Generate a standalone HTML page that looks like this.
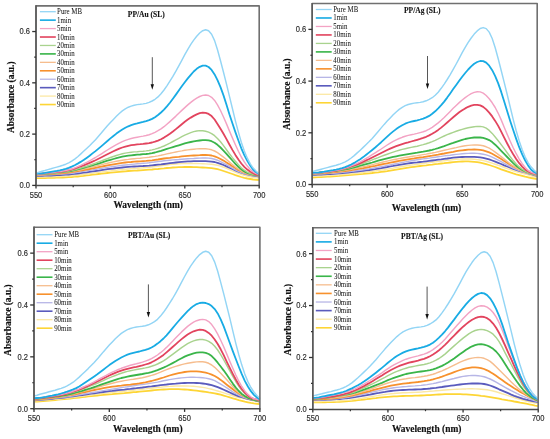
<!DOCTYPE html>
<html><head><meta charset="utf-8"><style>
html,body{margin:0;padding:0;background:#fff;width:550px;height:439px;overflow:hidden}
svg{display:block;filter:blur(0.35px)}
.tk{font-family:"Liberation Sans",sans-serif;font-size:9.0px;fill:#2a2a2a;stroke:#2a2a2a;stroke-width:0.15px}
.ax{font-family:"Liberation Serif",serif;font-weight:bold;font-size:9.45px;fill:#111;stroke:#111;stroke-width:0.15px}
.ti{font-family:"Liberation Serif",serif;font-weight:bold;font-size:7.5px;fill:#111;stroke:#111;stroke-width:0.12px}
.lg{font-family:"Liberation Serif",serif;font-size:7.3px;fill:#222;stroke:#222;stroke-width:0.05px}
</style></head><body>
<svg width="550" height="439" viewBox="0 0 550 439">
<rect width="550" height="439" fill="#fff"/>
<polyline points="36.0,178.0 39.0,178.0 42.0,178.0 44.9,178.0 47.9,177.9 50.9,177.9 53.9,177.8 56.8,177.7 59.8,177.6 62.8,177.5 65.8,177.4 68.7,177.2 71.7,177.0 74.7,176.7 77.7,176.5 80.6,176.1 83.6,175.8 86.6,175.4 89.6,175.1 92.5,174.7 95.5,174.4 98.5,174.0 101.5,173.7 104.4,173.3 107.4,173.0 110.4,172.7 113.4,172.4 116.4,172.1 119.3,171.8 122.3,171.5 125.3,171.3 128.3,171.0 131.2,170.8 134.2,170.6 137.2,170.5 140.2,170.3 143.1,170.1 146.1,169.9 149.1,169.7 152.1,169.5 155.0,169.2 158.0,169.0 161.0,168.7 164.0,168.4 166.9,168.0 169.9,167.8 172.9,167.5 175.9,167.3 178.8,167.2 181.8,167.1 184.8,167.0 187.8,167.0 190.8,167.0 193.7,167.1 196.7,167.2 199.7,167.4 202.7,167.5 205.6,167.7 208.6,167.9 211.6,168.1 214.6,168.6 217.5,169.2 220.5,170.0 223.5,171.0 226.5,172.0 229.4,173.0 232.4,174.0 235.4,175.1 238.4,176.1 241.3,177.0 244.3,177.8 247.3,178.5 250.3,179.0 253.2,179.5 256.2,179.8 259.2,180.0" fill="none" stroke="#fdd535" stroke-width="1.8" stroke-linejoin="round"/>
<polyline points="36.0,176.9 39.0,177.0 42.0,177.0 44.9,177.0 47.9,176.9 50.9,176.8 53.9,176.7 56.8,176.6 59.8,176.5 62.8,176.3 65.8,176.1 68.7,175.9 71.7,175.7 74.7,175.5 77.7,175.1 80.6,174.8 83.6,174.4 86.6,174.0 89.6,173.6 92.5,173.2 95.5,172.8 98.5,172.4 101.5,172.0 104.4,171.6 107.4,171.2 110.4,170.9 113.4,170.5 116.4,170.2 119.3,169.9 122.3,169.6 125.3,169.3 128.3,169.0 131.2,168.7 134.2,168.5 137.2,168.3 140.2,168.0 143.1,167.8 146.1,167.5 149.1,167.3 152.1,167.0 155.0,166.6 158.0,166.2 161.0,165.8 164.0,165.4 166.9,165.0 169.9,164.6 172.9,164.3 175.9,164.0 178.8,163.8 181.8,163.6 184.8,163.5 187.8,163.4 190.8,163.4 193.7,163.4 196.7,163.4 199.7,163.6 202.7,163.7 205.6,163.9 208.6,164.1 211.6,164.3 214.6,164.7 217.5,165.3 220.5,166.1 223.5,167.2 226.5,168.4 229.4,169.7 232.4,170.9 235.4,172.1 238.4,173.3 241.3,174.3 244.3,175.2 247.3,176.0 250.3,176.7 253.2,177.3 256.2,177.8 259.2,178.2" fill="none" stroke="#fbe8a4" stroke-width="1.45" stroke-linejoin="round"/>
<polyline points="36.0,175.9 39.0,175.9 42.0,175.8 44.9,175.7 47.9,175.6 50.9,175.5 53.9,175.4 56.8,175.2 59.8,175.1 62.8,174.9 65.8,174.7 68.7,174.5 71.7,174.2 74.7,173.9 77.7,173.5 80.6,173.1 83.6,172.7 86.6,172.3 89.6,171.8 92.5,171.4 95.5,171.0 98.5,170.6 101.5,170.1 104.4,169.7 107.4,169.2 110.4,168.8 113.4,168.5 116.4,168.1 119.3,167.8 122.3,167.5 125.3,167.2 128.3,166.9 131.2,166.7 134.2,166.5 137.2,166.3 140.2,166.1 143.1,166.0 146.1,165.8 149.1,165.6 152.1,165.3 155.0,165.0 158.0,164.7 161.0,164.4 164.0,164.0 166.9,163.6 169.9,163.2 172.9,162.8 175.9,162.5 178.8,162.2 181.8,161.9 184.8,161.6 187.8,161.4 190.8,161.3 193.7,161.2 196.7,161.2 199.7,161.1 202.7,161.1 205.6,161.2 208.6,161.3 211.6,161.6 214.6,162.0 217.5,162.8 220.5,163.8 223.5,165.0 226.5,166.4 229.4,167.7 232.4,169.0 235.4,170.3 238.4,171.6 241.3,172.7 244.3,173.6 247.3,174.4 250.3,175.1 253.2,175.7 256.2,176.2 259.2,176.6" fill="none" stroke="#5a5bbd" stroke-width="1.8" stroke-linejoin="round"/>
<polyline points="36.0,175.4 39.0,175.3 42.0,175.2 44.9,175.1 47.9,174.9 50.9,174.8 53.9,174.6 56.8,174.4 59.8,174.3 62.8,174.0 65.8,173.8 68.7,173.5 71.7,173.2 74.7,172.8 77.7,172.3 80.6,171.9 83.6,171.4 86.6,170.9 89.6,170.4 92.5,170.0 95.5,169.5 98.5,168.9 101.5,168.4 104.4,167.9 107.4,167.4 110.4,166.9 113.4,166.5 116.4,166.1 119.3,165.7 122.3,165.3 125.3,165.0 128.3,164.7 131.2,164.4 134.2,164.1 137.2,163.8 140.2,163.6 143.1,163.3 146.1,163.1 149.1,162.8 152.1,162.4 155.0,162.0 158.0,161.6 161.0,161.2 164.0,160.8 166.9,160.5 169.9,160.2 172.9,159.9 175.9,159.7 178.8,159.5 181.8,159.2 184.8,159.0 187.8,158.8 190.8,158.6 193.7,158.5 196.7,158.3 199.7,158.1 202.7,158.0 205.6,158.0 208.6,158.1 211.6,158.5 214.6,159.2 217.5,160.2 220.5,161.6 223.5,163.1 226.5,164.7 229.4,166.4 232.4,168.2 235.4,169.9 238.4,171.3 241.3,172.5 244.3,173.6 247.3,174.3 250.3,175.0 253.2,175.4 256.2,175.8 259.2,176.1" fill="none" stroke="#b7b6e6" stroke-width="1.45" stroke-linejoin="round"/>
<polyline points="36.0,174.9 39.0,174.7 42.0,174.6 44.9,174.4 47.9,174.3 50.9,174.1 53.9,173.9 56.8,173.7 59.8,173.5 62.8,173.2 65.8,172.9 68.7,172.6 71.7,172.2 74.7,171.7 77.7,171.2 80.6,170.7 83.6,170.1 86.6,169.5 89.6,169.0 92.5,168.4 95.5,167.8 98.5,167.2 101.5,166.6 104.4,166.0 107.4,165.4 110.4,164.8 113.4,164.3 116.4,163.8 119.3,163.3 122.3,162.9 125.3,162.5 128.3,162.2 131.2,162.0 134.2,161.7 137.2,161.5 140.2,161.3 143.1,161.1 146.1,160.9 149.1,160.6 152.1,160.3 155.0,159.9 158.0,159.5 161.0,159.0 164.0,158.5 166.9,158.1 169.9,157.8 172.9,157.4 175.9,157.1 178.8,156.8 181.8,156.4 184.8,156.1 187.8,155.9 190.8,155.7 193.7,155.5 196.7,155.3 199.7,155.2 202.7,155.0 205.6,155.0 208.6,155.1 211.6,155.5 214.6,156.3 217.5,157.5 220.5,159.0 223.5,160.6 226.5,162.4 229.4,164.3 232.4,166.2 235.4,168.1 238.4,169.9 241.3,171.3 244.3,172.6 247.3,173.6 250.3,174.4 253.2,174.9 256.2,175.3 259.2,175.7" fill="none" stroke="#f7912d" stroke-width="1.8" stroke-linejoin="round"/>
<polyline points="36.0,174.6 39.0,174.5 42.0,174.3 44.9,174.1 47.9,173.9 50.9,173.7 53.9,173.4 56.8,173.2 59.8,172.9 62.8,172.6 65.8,172.3 68.7,171.9 71.7,171.5 74.7,170.9 77.7,170.3 80.6,169.7 83.6,169.0 86.6,168.3 89.6,167.6 92.5,166.9 95.5,166.2 98.5,165.4 101.5,164.7 104.4,163.9 107.4,163.2 110.4,162.5 113.4,161.9 116.4,161.3 119.3,160.7 122.3,160.2 125.3,159.7 128.3,159.4 131.2,159.0 134.2,158.7 137.2,158.4 140.2,158.2 143.1,157.9 146.1,157.6 149.1,157.3 152.1,156.8 155.0,156.4 158.0,155.9 161.0,155.3 164.0,154.6 166.9,153.9 169.9,153.3 172.9,152.6 175.9,152.0 178.8,151.4 181.8,150.9 184.8,150.3 187.8,149.9 190.8,149.5 193.7,149.2 196.7,148.9 199.7,148.8 202.7,148.7 205.6,148.7 208.6,149.1 211.6,149.8 214.6,151.0 217.5,152.7 220.5,154.8 223.5,157.1 226.5,159.5 229.4,162.0 232.4,164.5 235.4,167.0 238.4,169.2 241.3,171.0 244.3,172.5 247.3,173.6 250.3,174.4 253.2,174.9 256.2,175.2 259.2,175.4" fill="none" stroke="#f6bd8e" stroke-width="1.45" stroke-linejoin="round"/>
<polyline points="36.0,174.4 39.0,174.2 42.0,173.9 44.9,173.7 47.9,173.5 50.9,173.3 53.9,173.0 56.8,172.7 59.8,172.4 62.8,172.1 65.8,171.7 68.7,171.3 71.7,170.8 74.7,170.1 77.7,169.4 80.6,168.6 83.6,167.8 86.6,167.0 89.6,166.2 92.5,165.3 95.5,164.5 98.5,163.6 101.5,162.6 104.4,161.7 107.4,160.7 110.4,159.9 113.4,159.0 116.4,158.2 119.3,157.4 122.3,156.7 125.3,156.1 128.3,155.7 131.2,155.3 134.2,155.0 137.2,154.7 140.2,154.5 143.1,154.2 146.1,154.0 149.1,153.6 152.1,153.1 155.0,152.5 158.0,151.7 161.0,150.9 164.0,149.9 166.9,148.9 169.9,148.0 172.9,147.1 175.9,146.2 178.8,145.3 181.8,144.3 184.8,143.4 187.8,142.6 190.8,142.0 193.7,141.4 196.7,140.9 199.7,140.5 202.7,140.2 205.6,140.1 208.6,140.4 211.6,141.2 214.6,142.7 217.5,144.8 220.5,147.5 223.5,150.6 226.5,153.8 229.4,157.1 232.4,160.5 235.4,163.9 238.4,166.8 241.3,169.3 244.3,171.4 247.3,173.0 250.3,174.0 253.2,174.7 256.2,175.0 259.2,175.2" fill="none" stroke="#3ab54a" stroke-width="1.8" stroke-linejoin="round"/>
<polyline points="36.0,174.4 39.0,174.3 42.0,174.0 44.9,173.8 47.9,173.5 50.9,173.3 53.9,173.0 56.8,172.7 59.8,172.3 62.8,171.9 65.8,171.5 68.7,171.0 71.7,170.4 74.7,169.7 77.7,168.9 80.6,168.1 83.6,167.1 86.6,166.2 89.6,165.2 92.5,164.2 95.5,163.1 98.5,162.0 101.5,160.9 104.4,159.8 107.4,158.6 110.4,157.5 113.4,156.5 116.4,155.5 119.3,154.6 122.3,153.8 125.3,153.1 128.3,152.6 131.2,152.2 134.2,151.9 137.2,151.7 140.2,151.4 143.1,151.2 146.1,150.9 149.1,150.5 152.1,149.9 155.0,149.1 158.0,148.2 161.0,147.2 164.0,146.0 166.9,144.6 169.9,143.1 172.9,141.5 175.9,139.9 178.8,138.3 181.8,136.7 184.8,135.2 187.8,133.8 190.8,132.6 193.7,131.6 196.7,131.0 199.7,130.6 202.7,130.7 205.6,131.2 208.6,132.1 211.6,133.6 214.6,135.7 217.5,138.5 220.5,141.8 223.5,145.6 226.5,149.7 229.4,153.7 232.4,157.6 235.4,161.3 238.4,164.8 241.3,167.8 244.3,170.2 247.3,172.1 250.3,173.5 253.2,174.4 256.2,174.8 259.2,175.0" fill="none" stroke="#a9d38e" stroke-width="1.45" stroke-linejoin="round"/>
<polyline points="36.0,174.1 39.0,173.9 42.0,173.6 44.9,173.3 47.9,173.0 50.9,172.7 53.9,172.4 56.8,172.1 59.8,171.8 62.8,171.3 65.8,170.9 68.7,170.2 71.7,169.5 74.7,168.6 77.7,167.5 80.6,166.4 83.6,165.3 86.6,164.1 89.6,162.9 92.5,161.6 95.5,160.2 98.5,158.7 101.5,157.2 104.4,155.7 107.4,154.2 110.4,152.7 113.4,151.3 116.4,149.9 119.3,148.6 122.3,147.5 125.3,146.6 128.3,145.8 131.2,145.2 134.2,144.8 137.2,144.4 140.2,144.2 143.1,143.9 146.1,143.5 149.1,143.1 152.1,142.5 155.0,141.7 158.0,140.6 161.0,139.2 164.0,137.6 166.9,135.7 169.9,133.7 172.9,131.5 175.9,129.1 178.8,126.7 181.8,124.2 184.8,121.8 187.8,119.6 190.8,117.6 193.7,115.9 196.7,114.4 199.7,113.2 202.7,112.6 205.6,112.8 208.6,113.9 211.6,116.1 214.6,119.5 217.5,123.9 220.5,128.7 223.5,133.8 226.5,139.1 229.4,144.5 232.4,149.9 235.4,154.9 238.4,159.5 241.3,163.5 244.3,166.9 247.3,169.6 250.3,171.7 253.2,173.3 256.2,174.6 259.2,174.9" fill="none" stroke="#e2445e" stroke-width="1.8" stroke-linejoin="round"/>
<polyline points="36.0,173.9 39.0,173.9 42.0,173.5 44.9,173.2 47.9,172.9 50.9,172.6 53.9,172.2 56.8,171.9 59.8,171.5 62.8,171.0 65.8,170.5 68.7,169.8 71.7,169.0 74.7,167.9 77.7,166.7 80.6,165.4 83.6,163.9 86.6,162.4 89.6,160.8 92.5,159.2 95.5,157.5 98.5,155.7 101.5,153.8 104.4,151.9 107.4,150.0 110.4,148.1 113.4,146.3 116.4,144.7 119.3,143.1 122.3,141.7 125.3,140.4 128.3,139.4 131.2,138.5 134.2,137.8 137.2,137.2 140.2,136.6 143.1,136.1 146.1,135.5 149.1,134.7 152.1,133.6 155.0,132.3 158.0,130.7 161.0,128.9 164.0,126.7 166.9,124.2 169.9,121.6 172.9,118.9 175.9,116.1 178.8,113.2 181.8,110.4 184.8,107.6 187.8,104.9 190.8,102.4 193.7,100.1 196.7,98.2 199.7,96.5 202.7,95.4 205.6,95.0 208.6,95.5 211.6,97.3 214.6,100.4 217.5,104.9 220.5,110.5 223.5,117.0 226.5,123.9 229.4,130.9 232.4,137.9 235.4,144.7 238.4,151.2 241.3,157.0 244.3,161.9 247.3,166.1 250.3,169.4 253.2,172.0 256.2,173.5 259.2,174.6" fill="none" stroke="#f3a3c4" stroke-width="1.45" stroke-linejoin="round"/>
<polyline points="36.0,173.6 39.0,173.5 42.0,173.3 44.9,172.9 47.9,172.4 50.9,171.9 53.9,171.4 56.8,170.9 59.8,170.3 62.8,169.6 65.8,168.8 68.7,167.8 71.7,166.6 74.7,165.2 77.7,163.6 80.6,161.9 83.6,160.0 86.6,157.9 89.6,155.7 92.5,153.4 95.5,151.1 98.5,148.6 101.5,146.1 104.4,143.6 107.4,141.0 110.4,138.4 113.4,136.0 116.4,133.6 119.3,131.5 122.3,129.6 125.3,127.8 128.3,126.3 131.2,125.1 134.2,124.1 137.2,123.4 140.2,122.6 143.1,121.9 146.1,121.1 149.1,120.2 152.1,118.9 155.0,117.2 158.0,115.0 161.0,112.5 164.0,109.7 166.9,106.4 169.9,102.7 172.9,98.7 175.9,94.6 178.8,90.5 181.8,86.3 184.8,82.3 187.8,78.4 190.8,74.8 193.7,71.5 196.7,68.8 199.7,66.8 202.7,65.6 205.6,65.6 208.6,67.0 211.6,69.9 214.6,74.4 217.5,80.1 220.5,87.1 223.5,95.4 226.5,104.7 229.4,114.2 232.4,123.3 235.4,132.1 238.4,140.5 241.3,148.3 244.3,155.1 247.3,160.9 250.3,165.8 253.2,169.8 256.2,172.3 259.2,174.3" fill="none" stroke="#18abe4" stroke-width="1.8" stroke-linejoin="round"/>
<polyline points="36.0,173.1 39.0,172.2 42.0,171.3 44.9,170.5 47.9,169.6 50.9,168.8 53.9,167.9 56.8,167.1 59.8,166.3 62.8,165.3 65.8,164.2 68.7,162.8 71.7,161.2 74.7,159.1 77.7,156.7 80.6,154.1 83.6,151.3 86.6,148.5 89.6,145.7 92.5,142.8 95.5,139.7 98.5,136.3 101.5,132.8 104.4,129.2 107.4,125.8 110.4,122.5 113.4,119.4 116.4,116.3 119.3,113.5 122.3,110.9 125.3,108.8 128.3,107.2 131.2,106.1 134.2,105.2 137.2,104.6 140.2,104.3 143.1,103.9 146.1,103.4 149.1,102.4 152.1,101.0 155.0,99.3 158.0,96.9 161.0,93.8 164.0,90.0 166.9,85.8 169.9,81.2 172.9,76.4 175.9,71.2 178.8,65.8 181.8,60.3 184.8,54.7 187.8,49.3 190.8,44.4 193.7,40.1 196.7,36.2 199.7,33.0 202.7,30.7 205.6,29.7 208.6,30.7 211.6,34.2 214.6,40.6 217.5,49.7 220.5,60.7 223.5,72.3 226.5,84.1 229.4,96.1 232.4,108.5 235.4,120.8 238.4,132.1 241.3,142.2 244.3,151.0 247.3,158.2 250.3,163.9 253.2,168.1 256.2,171.3 259.2,173.9" fill="none" stroke="#93d5f5" stroke-width="1.45" stroke-linejoin="round"/>
<path d="M36.0,185.4 V5.9 H259.2 V185.4" fill="none" stroke="#707070" stroke-width="1.6" stroke-linejoin="round"/>
<path d="M35.4,185.4 H259.8" stroke="#4a4a4a" stroke-width="1.5"/>
<path d="M36.0,186.0 V5.300000000000001" stroke="#5a5a5a" stroke-width="1.5"/>
<line x1="36.00" y1="185.4" x2="36.00" y2="188.60" stroke="#333" stroke-width="1.3"/>
<text x="36.00" y="197.80" class="tk" text-anchor="middle" transform="translate(36.00,0) scale(0.84,1) translate(-36.00,0)">550</text>
<line x1="110.40" y1="185.4" x2="110.40" y2="188.60" stroke="#333" stroke-width="1.3"/>
<text x="110.40" y="197.80" class="tk" text-anchor="middle" transform="translate(110.40,0) scale(0.84,1) translate(-110.40,0)">600</text>
<line x1="184.80" y1="185.4" x2="184.80" y2="188.60" stroke="#333" stroke-width="1.3"/>
<text x="184.80" y="197.80" class="tk" text-anchor="middle" transform="translate(184.80,0) scale(0.84,1) translate(-184.80,0)">650</text>
<line x1="259.20" y1="185.4" x2="259.20" y2="188.60" stroke="#333" stroke-width="1.3"/>
<text x="259.20" y="197.80" class="tk" text-anchor="middle" transform="translate(259.20,0) scale(0.84,1) translate(-259.20,0)">700</text>
<line x1="73.20" y1="185.4" x2="73.20" y2="187.20" stroke="#333" stroke-width="1.2"/>
<line x1="147.60" y1="185.4" x2="147.60" y2="187.20" stroke="#333" stroke-width="1.2"/>
<line x1="222.00" y1="185.4" x2="222.00" y2="187.20" stroke="#333" stroke-width="1.2"/>
<line x1="36.0" y1="185.40" x2="32.20" y2="185.40" stroke="#333" stroke-width="1.3"/>
<text x="30.00" y="188.30" class="tk" text-anchor="end" transform="translate(30.00,0) scale(0.84,1) translate(-30.00,0)">0.0</text>
<line x1="36.0" y1="134.11" x2="32.20" y2="134.11" stroke="#333" stroke-width="1.3"/>
<text x="30.00" y="137.01" class="tk" text-anchor="end" transform="translate(30.00,0) scale(0.84,1) translate(-30.00,0)">0.2</text>
<line x1="36.0" y1="82.83" x2="32.20" y2="82.83" stroke="#333" stroke-width="1.3"/>
<text x="30.00" y="85.73" class="tk" text-anchor="end" transform="translate(30.00,0) scale(0.84,1) translate(-30.00,0)">0.4</text>
<line x1="36.0" y1="31.54" x2="32.20" y2="31.54" stroke="#333" stroke-width="1.3"/>
<text x="30.00" y="34.44" class="tk" text-anchor="end" transform="translate(30.00,0) scale(0.84,1) translate(-30.00,0)">0.6</text>
<line x1="36.0" y1="159.76" x2="34.20" y2="159.76" stroke="#333" stroke-width="1.2"/>
<line x1="36.0" y1="108.47" x2="34.20" y2="108.47" stroke="#333" stroke-width="1.2"/>
<line x1="36.0" y1="57.19" x2="34.20" y2="57.19" stroke="#333" stroke-width="1.2"/>
<text x="148.20" y="208.10" class="ax" text-anchor="middle">Wavelength (nm)</text>
<text transform="translate(14.10,97.20) rotate(-90)" class="ax" text-anchor="middle">Absorbance (a.u.)</text>
<text x="127.80" y="16.80" class="ti">PP/Au (SL)</text>
<line x1="39.90" y1="11.70" x2="55.80" y2="11.70" stroke="#93d5f5" stroke-width="1.30"/>
<text x="57.10" y="14.20" class="lg" transform="translate(57.10,0) scale(0.94,1) translate(-57.10,0)">Pure MB</text>
<line x1="39.90" y1="20.14" x2="55.80" y2="20.14" stroke="#18abe4" stroke-width="1.62"/>
<text x="57.10" y="22.64" class="lg" transform="translate(57.10,0) scale(0.94,1) translate(-57.10,0)">1min</text>
<line x1="39.90" y1="28.58" x2="55.80" y2="28.58" stroke="#f3a3c4" stroke-width="1.30"/>
<text x="57.10" y="31.08" class="lg" transform="translate(57.10,0) scale(0.94,1) translate(-57.10,0)">5min</text>
<line x1="39.90" y1="37.02" x2="55.80" y2="37.02" stroke="#e2445e" stroke-width="1.62"/>
<text x="57.10" y="39.52" class="lg" transform="translate(57.10,0) scale(0.94,1) translate(-57.10,0)">10min</text>
<line x1="39.90" y1="45.46" x2="55.80" y2="45.46" stroke="#a9d38e" stroke-width="1.30"/>
<text x="57.10" y="47.96" class="lg" transform="translate(57.10,0) scale(0.94,1) translate(-57.10,0)">20min</text>
<line x1="39.90" y1="53.90" x2="55.80" y2="53.90" stroke="#3ab54a" stroke-width="1.62"/>
<text x="57.10" y="56.40" class="lg" transform="translate(57.10,0) scale(0.94,1) translate(-57.10,0)">30min</text>
<line x1="39.90" y1="62.34" x2="55.80" y2="62.34" stroke="#f6bd8e" stroke-width="1.30"/>
<text x="57.10" y="64.84" class="lg" transform="translate(57.10,0) scale(0.94,1) translate(-57.10,0)">40min</text>
<line x1="39.90" y1="70.78" x2="55.80" y2="70.78" stroke="#f7912d" stroke-width="1.62"/>
<text x="57.10" y="73.28" class="lg" transform="translate(57.10,0) scale(0.94,1) translate(-57.10,0)">50min</text>
<line x1="39.90" y1="79.22" x2="55.80" y2="79.22" stroke="#b7b6e6" stroke-width="1.30"/>
<text x="57.10" y="81.72" class="lg" transform="translate(57.10,0) scale(0.94,1) translate(-57.10,0)">60min</text>
<line x1="39.90" y1="87.66" x2="55.80" y2="87.66" stroke="#5a5bbd" stroke-width="1.62"/>
<text x="57.10" y="90.16" class="lg" transform="translate(57.10,0) scale(0.94,1) translate(-57.10,0)">70min</text>
<line x1="39.90" y1="96.10" x2="55.80" y2="96.10" stroke="#fbe8a4" stroke-width="1.30"/>
<text x="57.10" y="98.60" class="lg" transform="translate(57.10,0) scale(0.94,1) translate(-57.10,0)">80min</text>
<line x1="39.90" y1="104.54" x2="55.80" y2="104.54" stroke="#fdd535" stroke-width="1.62"/>
<text x="57.10" y="107.04" class="lg" transform="translate(57.10,0) scale(0.94,1) translate(-57.10,0)">90min</text>
<line x1="152.30" y1="57.20" x2="152.30" y2="85.70" stroke="#444" stroke-width="0.9"/>
<path d="M150.60,84.20 L154.00,84.20 L152.30,89.70 Z" fill="#111"/>
<polyline points="312.2,177.5 315.2,177.4 318.2,177.2 321.2,177.1 324.2,176.9 327.2,176.7 330.2,176.5 333.2,176.3 336.2,176.1 339.2,175.9 342.2,175.6 345.2,175.4 348.2,175.2 351.2,174.9 354.2,174.6 357.2,174.4 360.2,174.1 363.2,173.9 366.2,173.6 369.2,173.3 372.2,173.0 375.2,172.6 378.2,172.3 381.2,171.9 384.2,171.5 387.2,171.1 390.2,170.6 393.2,170.1 396.2,169.6 399.2,169.1 402.2,168.6 405.2,168.1 408.2,167.6 411.2,167.2 414.2,166.8 417.2,166.4 420.2,166.0 423.2,165.6 426.2,165.3 429.2,164.9 432.2,164.6 435.2,164.2 438.2,163.9 441.2,163.5 444.2,163.2 447.2,162.8 450.2,162.5 453.2,162.2 456.2,161.9 459.2,161.7 462.2,161.5 465.2,161.4 468.2,161.4 471.2,161.6 474.2,161.8 477.2,162.2 480.2,162.7 483.2,163.3 486.2,164.1 489.2,165.0 492.2,166.0 495.2,167.0 498.2,168.2 501.2,169.3 504.2,170.3 507.2,171.4 510.2,172.4 513.2,173.4 516.2,174.3 519.2,175.1 522.2,175.9 525.2,176.7 528.2,177.3 531.2,178.0 534.2,178.5 537.2,179.0" fill="none" stroke="#fdd535" stroke-width="1.8" stroke-linejoin="round"/>
<polyline points="312.2,176.2 315.2,176.1 318.2,176.0 321.2,175.9 324.2,175.8 327.2,175.6 330.2,175.5 333.2,175.3 336.2,175.1 339.2,174.9 342.2,174.6 345.2,174.4 348.2,174.1 351.2,173.8 354.2,173.5 357.2,173.2 360.2,172.8 363.2,172.5 366.2,172.1 369.2,171.7 372.2,171.3 375.2,170.9 378.2,170.5 381.2,170.0 384.2,169.6 387.2,169.1 390.2,168.6 393.2,168.1 396.2,167.5 399.2,167.0 402.2,166.5 405.2,166.0 408.2,165.5 411.2,165.1 414.2,164.7 417.2,164.2 420.2,163.8 423.2,163.4 426.2,163.0 429.2,162.6 432.2,162.3 435.2,161.9 438.2,161.5 441.2,161.1 444.2,160.7 447.2,160.3 450.2,160.0 453.2,159.6 456.2,159.3 459.2,159.1 462.2,158.9 465.2,158.9 468.2,158.9 471.2,159.0 474.2,159.2 477.2,159.6 480.2,160.0 483.2,160.6 486.2,161.3 489.2,162.2 492.2,163.1 495.2,164.2 498.2,165.3 501.2,166.3 504.2,167.5 507.2,168.6 510.2,169.6 513.2,170.7 516.2,171.6 519.2,172.5 522.2,173.3 525.2,174.1 528.2,174.9 531.2,175.7 534.2,176.5 537.2,177.2" fill="none" stroke="#fbe8a4" stroke-width="1.45" stroke-linejoin="round"/>
<polyline points="312.2,174.9 315.2,174.8 318.2,174.7 321.2,174.5 324.2,174.4 327.2,174.2 330.2,174.0 333.2,173.8 336.2,173.6 339.2,173.4 342.2,173.1 345.2,172.8 348.2,172.5 351.2,172.2 354.2,171.9 357.2,171.5 360.2,171.2 363.2,170.8 366.2,170.4 369.2,170.0 372.2,169.5 375.2,169.1 378.2,168.6 381.2,168.1 384.2,167.5 387.2,167.0 390.2,166.4 393.2,165.9 396.2,165.3 399.2,164.8 402.2,164.3 405.2,163.8 408.2,163.4 411.2,163.0 414.2,162.7 417.2,162.4 420.2,162.0 423.2,161.7 426.2,161.3 429.2,160.9 432.2,160.5 435.2,160.1 438.2,159.7 441.2,159.3 444.2,158.8 447.2,158.5 450.2,158.1 453.2,157.7 456.2,157.4 459.2,157.2 462.2,157.0 465.2,156.8 468.2,156.8 471.2,156.8 474.2,156.9 477.2,157.1 480.2,157.4 483.2,157.9 486.2,158.6 489.2,159.4 492.2,160.5 495.2,161.6 498.2,162.8 501.2,164.0 504.2,165.3 507.2,166.5 510.2,167.7 513.2,168.8 516.2,169.8 519.2,170.8 522.2,171.6 525.2,172.5 528.2,173.3 531.2,174.2 534.2,175.1 537.2,175.9" fill="none" stroke="#5a5bbd" stroke-width="1.8" stroke-linejoin="round"/>
<polyline points="312.2,174.4 315.2,174.3 318.2,174.1 321.2,174.0 324.2,173.8 327.2,173.6 330.2,173.4 333.2,173.2 336.2,173.0 339.2,172.7 342.2,172.4 345.2,172.1 348.2,171.8 351.2,171.4 354.2,171.0 357.2,170.6 360.2,170.2 363.2,169.8 366.2,169.3 369.2,168.9 372.2,168.4 375.2,167.8 378.2,167.3 381.2,166.7 384.2,166.1 387.2,165.5 390.2,164.9 393.2,164.3 396.2,163.7 399.2,163.1 402.2,162.5 405.2,161.9 408.2,161.4 411.2,160.8 414.2,160.3 417.2,159.8 420.2,159.4 423.2,158.9 426.2,158.5 429.2,158.1 432.2,157.6 435.2,157.2 438.2,156.8 441.2,156.4 444.2,155.9 447.2,155.5 450.2,155.2 453.2,154.8 456.2,154.4 459.2,154.1 462.2,153.8 465.2,153.5 468.2,153.4 471.2,153.3 474.2,153.3 477.2,153.4 480.2,153.7 483.2,154.2 486.2,154.9 489.2,155.9 492.2,157.1 495.2,158.6 498.2,160.1 501.2,161.7 504.2,163.3 507.2,165.0 510.2,166.6 513.2,168.1 516.2,169.4 519.2,170.6 522.2,171.6 525.2,172.5 528.2,173.3 531.2,174.0 534.2,174.8 537.2,175.4" fill="none" stroke="#b7b6e6" stroke-width="1.45" stroke-linejoin="round"/>
<polyline points="312.2,173.9 315.2,173.7 318.2,173.5 321.2,173.3 324.2,173.1 327.2,172.8 330.2,172.6 333.2,172.3 336.2,172.0 339.2,171.7 342.2,171.3 345.2,171.0 348.2,170.5 351.2,170.1 354.2,169.6 357.2,169.1 360.2,168.6 363.2,168.1 366.2,167.5 369.2,167.0 372.2,166.4 375.2,165.8 378.2,165.1 381.2,164.5 384.2,163.9 387.2,163.3 390.2,162.7 393.2,162.1 396.2,161.5 399.2,160.9 402.2,160.3 405.2,159.8 408.2,159.3 411.2,158.8 414.2,158.4 417.2,157.9 420.2,157.5 423.2,157.1 426.2,156.6 429.2,156.1 432.2,155.7 435.2,155.1 438.2,154.6 441.2,154.0 444.2,153.5 447.2,152.9 450.2,152.3 453.2,151.8 456.2,151.2 459.2,150.7 462.2,150.3 465.2,150.0 468.2,149.7 471.2,149.6 474.2,149.5 477.2,149.6 480.2,149.9 483.2,150.4 486.2,151.3 489.2,152.4 492.2,153.8 495.2,155.5 498.2,157.3 501.2,159.1 504.2,160.9 507.2,162.8 510.2,164.7 513.2,166.4 516.2,168.0 519.2,169.4 522.2,170.7 525.2,171.8 528.2,172.7 531.2,173.6 534.2,174.4 537.2,174.9" fill="none" stroke="#f7912d" stroke-width="1.8" stroke-linejoin="round"/>
<polyline points="312.2,173.6 315.2,173.4 318.2,173.2 321.2,172.9 324.2,172.7 327.2,172.4 330.2,172.1 333.2,171.8 336.2,171.5 339.2,171.1 342.2,170.7 345.2,170.3 348.2,169.8 351.2,169.2 354.2,168.6 357.2,168.0 360.2,167.4 363.2,166.7 366.2,166.1 369.2,165.4 372.2,164.7 375.2,163.9 378.2,163.2 381.2,162.5 384.2,161.8 387.2,161.1 390.2,160.4 393.2,159.8 396.2,159.2 399.2,158.6 402.2,158.0 405.2,157.5 408.2,157.0 411.2,156.5 414.2,156.0 417.2,155.6 420.2,155.1 423.2,154.6 426.2,154.1 429.2,153.5 432.2,153.0 435.2,152.4 438.2,151.7 441.2,151.0 444.2,150.3 447.2,149.6 450.2,148.9 453.2,148.2 456.2,147.6 459.2,146.9 462.2,146.3 465.2,145.8 468.2,145.4 471.2,145.1 474.2,145.0 477.2,145.0 480.2,145.2 483.2,145.8 486.2,146.8 489.2,148.2 492.2,150.0 495.2,152.1 498.2,154.4 501.2,156.7 504.2,159.1 507.2,161.5 510.2,163.8 513.2,166.0 516.2,167.9 519.2,169.5 522.2,170.8 525.2,172.0 528.2,172.9 531.2,173.6 534.2,174.3 537.2,174.6" fill="none" stroke="#f6bd8e" stroke-width="1.45" stroke-linejoin="round"/>
<polyline points="312.2,173.4 315.2,173.1 318.2,172.8 321.2,172.5 324.2,172.2 327.2,171.9 330.2,171.5 333.2,171.1 336.2,170.8 339.2,170.4 342.2,169.9 345.2,169.4 348.2,168.8 351.2,168.1 354.2,167.4 357.2,166.6 360.2,165.7 363.2,164.9 366.2,164.1 369.2,163.3 372.2,162.5 375.2,161.6 378.2,160.7 381.2,159.9 384.2,159.1 387.2,158.3 390.2,157.6 393.2,156.9 396.2,156.3 399.2,155.7 402.2,155.1 405.2,154.6 408.2,154.1 411.2,153.6 414.2,153.1 417.2,152.7 420.2,152.2 423.2,151.7 426.2,151.1 429.2,150.5 432.2,149.8 435.2,149.0 438.2,148.1 441.2,147.1 444.2,146.1 447.2,145.0 450.2,143.9 453.2,142.9 456.2,141.8 459.2,140.8 462.2,139.8 465.2,139.0 468.2,138.4 471.2,137.9 474.2,137.5 477.2,137.4 480.2,137.5 483.2,137.9 486.2,138.8 489.2,140.1 492.2,142.1 495.2,144.7 498.2,147.7 501.2,150.8 504.2,153.9 507.2,157.0 510.2,160.1 513.2,163.1 516.2,165.8 519.2,168.0 522.2,169.9 525.2,171.4 528.2,172.5 531.2,173.4 534.2,174.0 537.2,174.4" fill="none" stroke="#3ab54a" stroke-width="1.8" stroke-linejoin="round"/>
<polyline points="312.2,173.4 315.2,173.1 318.2,172.8 321.2,172.4 324.2,172.1 327.2,171.8 330.2,171.4 333.2,171.1 336.2,170.6 339.2,170.1 342.2,169.6 345.2,168.9 348.2,168.1 351.2,167.2 354.2,166.2 357.2,165.2 360.2,164.2 363.2,163.2 366.2,162.1 369.2,161.1 372.2,159.9 375.2,158.7 378.2,157.6 381.2,156.4 384.2,155.3 387.2,154.2 390.2,153.1 393.2,152.1 396.2,151.1 399.2,150.2 402.2,149.4 405.2,148.7 408.2,148.0 411.2,147.4 414.2,146.8 417.2,146.2 420.2,145.4 423.2,144.6 426.2,143.7 429.2,142.7 432.2,141.6 435.2,140.3 438.2,138.9 441.2,137.4 444.2,136.0 447.2,134.7 450.2,133.5 453.2,132.4 456.2,131.3 459.2,130.3 462.2,129.4 465.2,128.5 468.2,127.8 471.2,127.2 474.2,126.7 477.2,126.4 480.2,126.4 483.2,126.9 486.2,128.2 489.2,130.4 492.2,133.4 495.2,137.0 498.2,140.7 501.2,144.6 504.2,148.6 507.2,152.7 510.2,156.8 513.2,160.6 516.2,164.0 519.2,166.9 522.2,169.2 525.2,171.1 528.2,172.5 531.2,173.5 534.2,174.4 537.2,174.4" fill="none" stroke="#a9d38e" stroke-width="1.45" stroke-linejoin="round"/>
<polyline points="312.2,173.1 315.2,172.9 318.2,172.8 321.2,172.4 324.2,172.1 327.2,171.8 330.2,171.4 333.2,171.0 336.2,170.5 339.2,169.9 342.2,169.2 345.2,168.4 348.2,167.5 351.2,166.5 354.2,165.5 357.2,164.3 360.2,163.1 363.2,161.8 366.2,160.4 369.2,159.0 372.2,157.5 375.2,156.0 378.2,154.5 381.2,153.0 384.2,151.5 387.2,150.0 390.2,148.6 393.2,147.3 396.2,146.2 399.2,145.1 402.2,144.1 405.2,143.2 408.2,142.4 411.2,141.5 414.2,140.7 417.2,139.8 420.2,138.9 423.2,137.9 426.2,136.8 429.2,135.4 432.2,133.8 435.2,131.9 438.2,129.9 441.2,127.6 444.2,125.1 447.2,122.5 450.2,119.8 453.2,117.2 456.2,114.7 459.2,112.3 462.2,110.2 465.2,108.4 468.2,106.8 471.2,105.6 474.2,104.9 477.2,104.8 480.2,105.4 483.2,106.9 486.2,109.4 489.2,112.6 492.2,116.4 495.2,120.9 498.2,125.9 501.2,131.6 504.2,137.6 507.2,143.5 510.2,149.1 513.2,154.3 516.2,159.0 519.2,163.2 522.2,166.6 525.2,169.4 528.2,171.5 531.2,172.9 534.2,173.7 537.2,174.2" fill="none" stroke="#e2445e" stroke-width="1.8" stroke-linejoin="round"/>
<polyline points="312.2,173.1 315.2,173.0 318.2,172.9 321.2,172.5 324.2,172.1 327.2,171.8 330.2,171.4 333.2,170.9 336.2,170.4 339.2,169.8 342.2,169.0 345.2,168.1 348.2,167.0 351.2,165.9 354.2,164.6 357.2,163.3 360.2,161.8 363.2,160.2 366.2,158.4 369.2,156.6 372.2,154.7 375.2,152.8 378.2,150.9 381.2,149.0 384.2,147.0 387.2,145.0 390.2,143.1 393.2,141.4 396.2,139.9 399.2,138.5 402.2,137.3 405.2,136.2 408.2,135.4 411.2,134.7 414.2,134.1 417.2,133.4 420.2,132.6 423.2,131.8 426.2,130.7 429.2,129.2 432.2,127.4 435.2,125.2 438.2,122.9 441.2,120.3 444.2,117.5 447.2,114.5 450.2,111.4 453.2,108.3 456.2,105.4 459.2,102.6 462.2,100.0 465.2,97.6 468.2,95.5 471.2,93.7 474.2,92.4 477.2,91.7 480.2,91.9 483.2,93.1 486.2,95.5 489.2,98.7 492.2,102.8 495.2,107.5 498.2,113.3 501.2,119.9 504.2,127.2 507.2,134.4 510.2,141.2 513.2,147.7 516.2,153.7 519.2,159.1 522.2,163.7 525.2,167.4 528.2,170.5 531.2,172.2 534.2,173.3 537.2,174.0" fill="none" stroke="#f3a3c4" stroke-width="1.45" stroke-linejoin="round"/>
<polyline points="312.2,172.9 315.2,172.7 318.2,172.6 321.2,172.1 324.2,171.7 327.2,171.2 330.2,170.7 333.2,170.2 336.2,169.6 339.2,168.9 342.2,168.1 345.2,167.1 348.2,165.9 351.2,164.5 354.2,162.9 357.2,161.1 360.2,159.2 363.2,157.1 366.2,154.8 369.2,152.4 372.2,150.0 375.2,147.5 378.2,144.8 381.2,142.2 384.2,139.4 387.2,136.6 390.2,133.9 393.2,131.4 396.2,129.1 399.2,127.0 402.2,125.2 405.2,123.7 408.2,122.5 411.2,121.7 414.2,121.0 417.2,120.3 420.2,119.5 423.2,118.6 426.2,117.4 429.2,115.9 432.2,113.8 435.2,111.3 438.2,108.4 441.2,105.2 444.2,101.6 447.2,97.6 450.2,93.4 453.2,89.1 456.2,84.9 459.2,80.8 462.2,76.8 465.2,73.0 468.2,69.5 471.2,66.4 474.2,63.8 477.2,62.0 480.2,61.0 483.2,61.1 486.2,62.6 489.2,65.7 492.2,70.2 495.2,76.1 498.2,83.4 501.2,91.9 504.2,101.5 507.2,111.3 510.2,120.9 513.2,130.0 516.2,138.9 519.2,147.2 522.2,154.4 525.2,160.5 528.2,165.6 531.2,169.7 534.2,172.0 537.2,173.7" fill="none" stroke="#18abe4" stroke-width="1.8" stroke-linejoin="round"/>
<polyline points="312.2,171.6 315.2,170.8 318.2,170.0 321.2,169.2 324.2,168.4 327.2,167.6 330.2,166.8 333.2,166.0 336.2,165.2 339.2,164.3 342.2,163.1 345.2,161.8 348.2,160.1 351.2,158.0 354.2,155.6 357.2,152.9 360.2,150.2 363.2,147.4 366.2,144.5 369.2,141.6 372.2,138.4 375.2,135.0 378.2,131.5 381.2,127.9 384.2,124.4 387.2,121.1 390.2,117.9 393.2,114.8 396.2,112.0 399.2,109.4 402.2,107.3 405.2,105.7 408.2,104.5 411.2,103.7 414.2,103.1 417.2,102.7 420.2,102.4 423.2,101.8 426.2,100.8 429.2,99.4 432.2,97.7 435.2,95.3 438.2,92.2 441.2,88.3 444.2,84.1 447.2,79.5 450.2,74.6 453.2,69.4 456.2,64.0 459.2,58.4 462.2,52.7 465.2,47.3 468.2,42.4 471.2,38.0 474.2,34.1 477.2,30.9 480.2,28.5 483.2,27.6 486.2,28.6 489.2,32.1 492.2,38.5 495.2,47.7 498.2,58.8 501.2,70.5 504.2,82.4 507.2,94.5 510.2,107.0 513.2,119.4 516.2,130.8 519.2,140.9 522.2,149.8 525.2,157.1 528.2,162.8 531.2,167.1 534.2,170.3 537.2,172.9" fill="none" stroke="#93d5f5" stroke-width="1.45" stroke-linejoin="round"/>
<path d="M312.2,184.5 V3.55 H537.2 V184.5" fill="none" stroke="#707070" stroke-width="1.6" stroke-linejoin="round"/>
<path d="M311.59999999999997,184.5 H537.8000000000001" stroke="#4a4a4a" stroke-width="1.5"/>
<path d="M312.2,185.1 V2.9499999999999997" stroke="#5a5a5a" stroke-width="1.5"/>
<line x1="312.20" y1="184.5" x2="312.20" y2="187.70" stroke="#333" stroke-width="1.3"/>
<text x="312.20" y="196.90" class="tk" text-anchor="middle" transform="translate(312.20,0) scale(0.84,1) translate(-312.20,0)">550</text>
<line x1="387.20" y1="184.5" x2="387.20" y2="187.70" stroke="#333" stroke-width="1.3"/>
<text x="387.20" y="196.90" class="tk" text-anchor="middle" transform="translate(387.20,0) scale(0.84,1) translate(-387.20,0)">600</text>
<line x1="462.20" y1="184.5" x2="462.20" y2="187.70" stroke="#333" stroke-width="1.3"/>
<text x="462.20" y="196.90" class="tk" text-anchor="middle" transform="translate(462.20,0) scale(0.84,1) translate(-462.20,0)">650</text>
<line x1="537.20" y1="184.5" x2="537.20" y2="187.70" stroke="#333" stroke-width="1.3"/>
<text x="537.20" y="196.90" class="tk" text-anchor="middle" transform="translate(537.20,0) scale(0.84,1) translate(-537.20,0)">700</text>
<line x1="349.70" y1="184.5" x2="349.70" y2="186.30" stroke="#333" stroke-width="1.2"/>
<line x1="424.70" y1="184.5" x2="424.70" y2="186.30" stroke="#333" stroke-width="1.2"/>
<line x1="499.70" y1="184.5" x2="499.70" y2="186.30" stroke="#333" stroke-width="1.2"/>
<line x1="312.2" y1="184.50" x2="308.40" y2="184.50" stroke="#333" stroke-width="1.3"/>
<text x="306.20" y="187.40" class="tk" text-anchor="end" transform="translate(306.20,0) scale(0.84,1) translate(-306.20,0)">0.0</text>
<line x1="312.2" y1="132.80" x2="308.40" y2="132.80" stroke="#333" stroke-width="1.3"/>
<text x="306.20" y="135.70" class="tk" text-anchor="end" transform="translate(306.20,0) scale(0.84,1) translate(-306.20,0)">0.2</text>
<line x1="312.2" y1="81.10" x2="308.40" y2="81.10" stroke="#333" stroke-width="1.3"/>
<text x="306.20" y="84.00" class="tk" text-anchor="end" transform="translate(306.20,0) scale(0.84,1) translate(-306.20,0)">0.4</text>
<line x1="312.2" y1="29.40" x2="308.40" y2="29.40" stroke="#333" stroke-width="1.3"/>
<text x="306.20" y="32.30" class="tk" text-anchor="end" transform="translate(306.20,0) scale(0.84,1) translate(-306.20,0)">0.6</text>
<line x1="312.2" y1="158.65" x2="310.40" y2="158.65" stroke="#333" stroke-width="1.2"/>
<line x1="312.2" y1="106.95" x2="310.40" y2="106.95" stroke="#333" stroke-width="1.2"/>
<line x1="312.2" y1="55.25" x2="310.40" y2="55.25" stroke="#333" stroke-width="1.2"/>
<text x="426.50" y="210.80" class="ax" text-anchor="middle">Wavelength (nm)</text>
<text transform="translate(290.20,94.10) rotate(-90)" class="ax" text-anchor="middle">Absorbance (a.u.)</text>
<text x="404.00" y="12.80" class="ti">PP/Ag (SL)</text>
<line x1="315.80" y1="9.50" x2="331.70" y2="9.50" stroke="#93d5f5" stroke-width="1.30"/>
<text x="333.30" y="12.00" class="lg" transform="translate(333.30,0) scale(0.94,1) translate(-333.30,0)">Pure MB</text>
<line x1="315.80" y1="17.98" x2="331.70" y2="17.98" stroke="#18abe4" stroke-width="1.62"/>
<text x="333.30" y="20.48" class="lg" transform="translate(333.30,0) scale(0.94,1) translate(-333.30,0)">1min</text>
<line x1="315.80" y1="26.46" x2="331.70" y2="26.46" stroke="#f3a3c4" stroke-width="1.30"/>
<text x="333.30" y="28.96" class="lg" transform="translate(333.30,0) scale(0.94,1) translate(-333.30,0)">5min</text>
<line x1="315.80" y1="34.94" x2="331.70" y2="34.94" stroke="#e2445e" stroke-width="1.62"/>
<text x="333.30" y="37.44" class="lg" transform="translate(333.30,0) scale(0.94,1) translate(-333.30,0)">10min</text>
<line x1="315.80" y1="43.42" x2="331.70" y2="43.42" stroke="#a9d38e" stroke-width="1.30"/>
<text x="333.30" y="45.92" class="lg" transform="translate(333.30,0) scale(0.94,1) translate(-333.30,0)">20min</text>
<line x1="315.80" y1="51.90" x2="331.70" y2="51.90" stroke="#3ab54a" stroke-width="1.62"/>
<text x="333.30" y="54.40" class="lg" transform="translate(333.30,0) scale(0.94,1) translate(-333.30,0)">30min</text>
<line x1="315.80" y1="60.38" x2="331.70" y2="60.38" stroke="#f6bd8e" stroke-width="1.30"/>
<text x="333.30" y="62.88" class="lg" transform="translate(333.30,0) scale(0.94,1) translate(-333.30,0)">40min</text>
<line x1="315.80" y1="68.86" x2="331.70" y2="68.86" stroke="#f7912d" stroke-width="1.62"/>
<text x="333.30" y="71.36" class="lg" transform="translate(333.30,0) scale(0.94,1) translate(-333.30,0)">50min</text>
<line x1="315.80" y1="77.34" x2="331.70" y2="77.34" stroke="#b7b6e6" stroke-width="1.30"/>
<text x="333.30" y="79.84" class="lg" transform="translate(333.30,0) scale(0.94,1) translate(-333.30,0)">60min</text>
<line x1="315.80" y1="85.82" x2="331.70" y2="85.82" stroke="#5a5bbd" stroke-width="1.62"/>
<text x="333.30" y="88.32" class="lg" transform="translate(333.30,0) scale(0.94,1) translate(-333.30,0)">70min</text>
<line x1="315.80" y1="94.30" x2="331.70" y2="94.30" stroke="#fbe8a4" stroke-width="1.30"/>
<text x="333.30" y="96.80" class="lg" transform="translate(333.30,0) scale(0.94,1) translate(-333.30,0)">80min</text>
<line x1="315.80" y1="102.78" x2="331.70" y2="102.78" stroke="#fdd535" stroke-width="1.62"/>
<text x="333.30" y="105.28" class="lg" transform="translate(333.30,0) scale(0.94,1) translate(-333.30,0)">90min</text>
<line x1="427.50" y1="56.00" x2="427.50" y2="84.90" stroke="#444" stroke-width="0.9"/>
<path d="M425.80,83.40 L429.20,83.40 L427.50,88.90 Z" fill="#111"/>
<polyline points="34.0,401.7 37.0,401.5 40.0,401.3 43.0,401.1 46.0,400.8 49.1,400.5 52.1,400.3 55.1,400.0 58.1,399.7 61.1,399.4 64.1,399.1 67.1,398.8 70.1,398.5 73.2,398.1 76.2,397.8 79.2,397.5 82.2,397.1 85.2,396.8 88.2,396.4 91.2,396.1 94.2,395.8 97.3,395.5 100.3,395.2 103.3,394.9 106.3,394.6 109.3,394.3 112.3,394.1 115.3,393.8 118.3,393.6 121.3,393.3 124.4,393.1 127.4,392.8 130.4,392.5 133.4,392.2 136.4,392.0 139.4,391.7 142.4,391.4 145.4,391.1 148.5,390.8 151.5,390.5 154.5,390.2 157.5,389.9 160.5,389.7 163.5,389.5 166.5,389.3 169.5,389.1 172.6,389.1 175.6,389.1 178.6,389.2 181.6,389.3 184.6,389.5 187.6,389.7 190.6,390.0 193.6,390.3 196.6,390.7 199.7,391.1 202.7,391.5 205.7,391.9 208.7,392.4 211.7,392.8 214.7,393.4 217.7,394.0 220.7,394.7 223.8,395.6 226.8,396.5 229.8,397.4 232.8,398.3 235.8,399.2 238.8,400.1 241.8,400.9 244.8,401.7 247.9,402.3 250.9,402.9 253.9,403.4 256.9,403.8 259.9,404.0" fill="none" stroke="#fdd535" stroke-width="1.8" stroke-linejoin="round"/>
<polyline points="34.0,400.9 37.0,400.7 40.0,400.5 43.0,400.3 46.0,400.1 49.1,399.8 52.1,399.6 55.1,399.3 58.1,399.0 61.1,398.7 64.1,398.4 67.1,398.1 70.1,397.7 73.2,397.3 76.2,397.0 79.2,396.6 82.2,396.2 85.2,395.8 88.2,395.4 91.2,395.0 94.2,394.6 97.3,394.2 100.3,393.8 103.3,393.4 106.3,393.1 109.3,392.7 112.3,392.4 115.3,392.1 118.3,391.8 121.3,391.5 124.4,391.2 127.4,390.9 130.4,390.6 133.4,390.3 136.4,389.9 139.4,389.6 142.4,389.2 145.4,388.9 148.5,388.5 151.5,388.2 154.5,387.8 157.5,387.5 160.5,387.2 163.5,386.9 166.5,386.6 169.5,386.4 172.6,386.2 175.6,386.0 178.6,385.9 181.6,385.9 184.6,385.9 187.6,386.0 190.6,386.1 193.6,386.3 196.6,386.6 199.7,387.0 202.7,387.4 205.7,387.9 208.7,388.6 211.7,389.3 214.7,390.1 217.7,391.0 220.7,391.9 223.8,392.9 226.8,393.9 229.8,394.8 232.8,395.8 235.8,396.7 238.8,397.5 241.8,398.2 244.8,398.9 247.9,399.5 250.9,400.2 253.9,400.9 256.9,401.6 259.9,402.4" fill="none" stroke="#fbe8a4" stroke-width="1.45" stroke-linejoin="round"/>
<polyline points="34.0,400.4 37.0,400.2 40.0,399.9 43.0,399.6 46.0,399.3 49.1,399.1 52.1,398.8 55.1,398.4 58.1,398.1 61.1,397.8 64.1,397.5 67.1,397.1 70.1,396.7 73.2,396.3 76.2,395.9 79.2,395.4 82.2,395.0 85.2,394.6 88.2,394.1 91.2,393.7 94.2,393.3 97.3,392.8 100.3,392.4 103.3,392.0 106.3,391.6 109.3,391.2 112.3,390.9 115.3,390.5 118.3,390.2 121.3,389.9 124.4,389.6 127.4,389.2 130.4,388.9 133.4,388.5 136.4,388.2 139.4,387.8 142.4,387.5 145.4,387.1 148.5,386.7 151.5,386.4 154.5,386.0 157.5,385.6 160.5,385.2 163.5,384.8 166.5,384.5 169.5,384.1 172.6,383.8 175.6,383.6 178.6,383.3 181.6,383.1 184.6,383.0 187.6,382.9 190.6,382.9 193.6,382.9 196.6,383.0 199.7,383.2 202.7,383.5 205.7,383.9 208.7,384.5 211.7,385.2 214.7,386.1 217.7,387.2 220.7,388.4 223.8,389.8 226.8,391.1 229.8,392.5 232.8,393.9 235.8,395.1 238.8,396.3 241.8,397.2 244.8,398.1 247.9,398.8 250.9,399.5 253.9,400.2 256.9,400.9 259.9,401.6" fill="none" stroke="#5a5bbd" stroke-width="1.8" stroke-linejoin="round"/>
<polyline points="34.0,400.1 37.0,399.9 40.0,399.6 43.0,399.3 46.0,399.0 49.1,398.7 52.1,398.4 55.1,398.1 58.1,397.8 61.1,397.4 64.1,397.1 67.1,396.7 70.1,396.2 73.2,395.8 76.2,395.2 79.2,394.7 82.2,394.2 85.2,393.7 88.2,393.2 91.2,392.7 94.2,392.2 97.3,391.7 100.3,391.1 103.3,390.6 106.3,390.1 109.3,389.6 112.3,389.1 115.3,388.6 118.3,388.1 121.3,387.6 124.4,387.1 127.4,386.7 130.4,386.2 133.4,385.8 136.4,385.3 139.4,384.9 142.4,384.5 145.4,384.1 148.5,383.6 151.5,383.1 154.5,382.6 157.5,382.1 160.5,381.5 163.5,380.8 166.5,380.2 169.5,379.6 172.6,379.1 175.6,378.6 178.6,378.2 181.6,377.9 184.6,377.6 187.6,377.4 190.6,377.3 193.6,377.3 196.6,377.4 199.7,377.5 202.7,377.8 205.7,378.1 208.7,378.7 211.7,379.5 214.7,380.7 217.7,382.3 220.7,384.1 223.8,386.0 226.8,387.9 229.8,389.8 232.8,391.8 235.8,393.6 238.8,395.2 241.8,396.6 244.8,397.7 247.9,398.6 250.9,399.4 253.9,400.0 256.9,400.6 259.9,401.1" fill="none" stroke="#b7b6e6" stroke-width="1.45" stroke-linejoin="round"/>
<polyline points="34.0,399.6 37.0,399.5 40.0,399.2 43.0,398.9 46.0,398.5 49.1,398.2 52.1,397.8 55.1,397.5 58.1,397.1 61.1,396.7 64.1,396.2 67.1,395.7 70.1,395.2 73.2,394.6 76.2,394.0 79.2,393.4 82.2,392.7 85.2,392.0 88.2,391.3 91.2,390.6 94.2,390.0 97.3,389.4 100.3,388.8 103.3,388.2 106.3,387.6 109.3,387.1 112.3,386.7 115.3,386.3 118.3,385.9 121.3,385.6 124.4,385.2 127.4,384.9 130.4,384.6 133.4,384.2 136.4,383.8 139.4,383.4 142.4,382.9 145.4,382.4 148.5,381.7 151.5,381.0 154.5,380.2 157.5,379.3 160.5,378.4 163.5,377.5 166.5,376.5 169.5,375.5 172.6,374.6 175.6,373.9 178.6,373.2 181.6,372.6 184.6,372.0 187.6,371.6 190.6,371.4 193.6,371.3 196.6,371.4 199.7,371.7 202.7,372.1 205.7,372.7 208.7,373.5 211.7,374.6 214.7,376.0 217.7,377.8 220.7,379.9 223.8,382.3 226.8,384.7 229.8,387.0 232.8,389.3 235.8,391.5 238.8,393.5 241.8,395.2 244.8,396.7 247.9,397.9 250.9,398.9 253.9,399.7 256.9,400.4 259.9,400.9" fill="none" stroke="#f7912d" stroke-width="1.8" stroke-linejoin="round"/>
<polyline points="34.0,399.4 37.0,399.1 40.0,398.8 43.0,398.5 46.0,398.2 49.1,397.9 52.1,397.6 55.1,397.2 58.1,396.9 61.1,396.5 64.1,396.0 67.1,395.4 70.1,394.8 73.2,394.1 76.2,393.3 79.2,392.4 82.2,391.6 85.2,390.8 88.2,390.0 91.2,389.2 94.2,388.3 97.3,387.4 100.3,386.5 103.3,385.6 106.3,384.8 109.3,384.0 112.3,383.2 115.3,382.5 118.3,381.8 121.3,381.2 124.4,380.6 127.4,380.1 130.4,379.6 133.4,379.2 136.4,378.7 139.4,378.2 142.4,377.7 145.4,377.0 148.5,376.2 151.5,375.4 154.5,374.5 157.5,373.4 160.5,372.2 163.5,370.9 166.5,369.7 169.5,368.5 172.6,367.4 175.6,366.4 178.6,365.5 181.6,364.6 184.6,363.9 187.6,363.2 190.6,362.7 193.6,362.2 196.6,361.9 199.7,361.7 202.7,361.8 205.7,362.3 208.7,363.3 211.7,365.0 214.7,367.3 217.7,370.2 220.7,373.3 223.8,376.4 226.8,379.8 229.8,383.2 232.8,386.7 235.8,389.9 238.8,392.6 241.8,394.9 244.8,396.7 247.9,398.1 250.9,399.1 253.9,399.9 256.9,400.6 259.9,400.6" fill="none" stroke="#f6bd8e" stroke-width="1.45" stroke-linejoin="round"/>
<polyline points="34.0,399.1 37.0,398.8 40.0,398.4 43.0,398.0 46.0,397.7 49.1,397.4 52.1,397.0 55.1,396.7 58.1,396.3 61.1,395.9 64.1,395.4 67.1,394.8 70.1,394.1 73.2,393.3 76.2,392.5 79.2,391.6 82.2,390.8 85.2,389.9 88.2,389.0 91.2,388.1 94.2,387.1 97.3,386.0 100.3,384.9 103.3,383.8 106.3,382.8 109.3,381.8 112.3,380.8 115.3,379.8 118.3,378.8 121.3,378.0 124.4,377.3 127.4,376.6 130.4,376.0 133.4,375.5 136.4,375.0 139.4,374.5 142.4,374.0 145.4,373.4 148.5,372.8 151.5,372.1 154.5,371.2 157.5,370.2 160.5,368.9 163.5,367.6 166.5,366.2 169.5,364.7 172.6,363.1 175.6,361.5 178.6,359.8 181.6,358.2 184.6,356.6 187.6,355.3 190.6,354.3 193.6,353.4 196.6,352.7 199.7,352.3 202.7,352.3 205.7,352.8 208.7,354.0 211.7,356.1 214.7,359.1 217.7,362.7 220.7,366.5 223.8,370.6 226.8,374.8 229.8,379.2 232.8,383.6 235.8,387.6 238.8,391.0 241.8,393.9 244.8,396.1 247.9,397.8 250.9,399.0 253.9,399.9 256.9,400.6 259.9,400.4" fill="none" stroke="#3ab54a" stroke-width="1.8" stroke-linejoin="round"/>
<polyline points="34.0,399.1 37.0,398.8 40.0,398.4 43.0,397.9 46.0,397.5 49.1,397.0 52.1,396.5 55.1,396.0 58.1,395.5 61.1,395.0 64.1,394.4 67.1,393.7 70.1,392.9 73.2,392.1 76.2,391.2 79.2,390.2 82.2,389.1 85.2,388.0 88.2,386.9 91.2,385.7 94.2,384.5 97.3,383.3 100.3,381.9 103.3,380.6 106.3,379.2 109.3,377.9 112.3,376.7 115.3,375.5 118.3,374.3 121.3,373.2 124.4,372.3 127.4,371.4 130.4,370.7 133.4,370.1 136.4,369.5 139.4,369.0 142.4,368.5 145.4,367.9 148.5,367.2 151.5,366.3 154.5,365.3 157.5,364.0 160.5,362.5 163.5,360.8 166.5,358.8 169.5,356.6 172.6,354.3 175.6,352.1 178.6,349.8 181.6,347.6 184.6,345.6 187.6,343.7 190.6,342.1 193.6,340.9 196.6,340.0 199.7,339.5 202.7,339.5 205.7,340.1 208.7,341.3 211.7,343.3 214.7,346.2 217.7,350.0 220.7,354.7 223.8,360.0 226.8,365.5 229.8,371.0 232.8,376.4 235.8,381.5 238.8,386.2 241.8,390.3 244.8,393.5 247.9,396.1 250.9,398.0 253.9,399.2 256.9,399.9 259.9,400.2" fill="none" stroke="#a9d38e" stroke-width="1.45" stroke-linejoin="round"/>
<polyline points="34.0,398.8 37.0,398.6 40.0,398.2 43.0,397.8 46.0,397.4 49.1,397.0 52.1,396.5 55.1,396.1 58.1,395.6 61.1,395.0 64.1,394.4 67.1,393.6 70.1,392.7 73.2,391.7 76.2,390.7 79.2,389.6 82.2,388.4 85.2,387.1 88.2,385.8 91.2,384.4 94.2,383.0 97.3,381.5 100.3,380.0 103.3,378.5 106.3,377.0 109.3,375.5 112.3,374.1 115.3,372.8 118.3,371.6 121.3,370.6 124.4,369.6 127.4,368.8 130.4,368.1 133.4,367.4 136.4,366.8 139.4,366.1 142.4,365.4 145.4,364.5 148.5,363.6 151.5,362.3 154.5,360.8 157.5,359.0 160.5,357.1 163.5,354.9 166.5,352.4 169.5,349.8 172.6,347.0 175.6,344.3 178.6,341.6 181.6,339.1 184.6,336.8 187.6,334.6 190.6,332.8 193.6,331.3 196.6,330.3 199.7,329.7 202.7,329.9 205.7,330.9 208.7,332.9 211.7,335.7 214.7,339.5 217.7,344.0 220.7,349.3 223.8,355.4 226.8,361.8 229.8,367.9 232.8,373.8 235.8,379.5 238.8,384.7 241.8,389.0 244.8,392.6 247.9,395.5 250.9,397.8 253.9,398.9 256.9,399.6 259.9,400.0" fill="none" stroke="#e2445e" stroke-width="1.8" stroke-linejoin="round"/>
<polyline points="34.0,398.6 37.0,398.3 40.0,397.9 43.0,397.4 46.0,396.9 49.1,396.5 52.1,396.1 55.1,395.6 58.1,395.1 61.1,394.6 64.1,393.9 67.1,393.1 70.1,392.2 73.2,391.2 76.2,390.0 79.2,388.8 82.2,387.5 85.2,386.2 88.2,384.8 91.2,383.3 94.2,381.8 97.3,380.2 100.3,378.5 103.3,376.9 106.3,375.3 109.3,373.7 112.3,372.2 115.3,370.8 118.3,369.5 121.3,368.3 124.4,367.2 127.4,366.2 130.4,365.3 133.4,364.5 136.4,363.8 139.4,363.0 142.4,362.1 145.4,361.1 148.5,360.0 151.5,358.6 154.5,356.9 157.5,355.0 160.5,352.7 163.5,350.2 166.5,347.4 169.5,344.4 172.6,341.3 175.6,338.1 178.6,335.0 181.6,331.9 184.6,329.1 187.6,326.4 190.6,324.2 193.6,322.2 196.6,320.7 199.7,319.7 202.7,319.4 205.7,319.9 208.7,321.6 211.7,324.6 214.7,328.9 217.7,334.1 220.7,340.2 223.8,347.0 226.8,354.1 229.8,361.4 232.8,368.3 235.8,375.0 238.8,381.2 241.8,386.5 244.8,390.9 247.9,394.4 250.9,397.0 253.9,398.8 256.9,399.4 259.9,399.8" fill="none" stroke="#f3a3c4" stroke-width="1.45" stroke-linejoin="round"/>
<polyline points="34.0,398.1 37.0,398.0 40.0,397.9 43.0,397.3 46.0,396.8 49.1,396.2 52.1,395.7 55.1,395.0 58.1,394.3 61.1,393.5 64.1,392.7 67.1,391.7 70.1,390.6 73.2,389.4 76.2,388.1 79.2,386.5 82.2,384.6 85.2,382.6 88.2,380.6 91.2,378.5 94.2,376.4 97.3,374.3 100.3,372.1 103.3,369.8 106.3,367.4 109.3,365.1 112.3,363.0 115.3,361.0 118.3,359.2 121.3,357.5 124.4,356.0 127.4,354.7 130.4,353.7 133.4,352.9 136.4,352.2 139.4,351.5 142.4,350.7 145.4,349.9 148.5,348.9 151.5,347.5 154.5,345.8 157.5,343.6 160.5,341.2 163.5,338.5 166.5,335.3 169.5,331.8 172.6,328.1 175.6,324.5 178.6,321.0 181.6,317.6 184.6,314.3 187.6,311.2 190.6,308.3 193.6,305.9 196.6,304.1 199.7,303.0 202.7,302.6 205.7,303.0 208.7,304.1 211.7,306.1 214.7,309.1 217.7,313.4 220.7,319.3 223.8,326.6 226.8,334.7 229.8,343.0 232.8,351.1 235.8,359.0 238.8,366.8 241.8,374.2 244.8,380.9 247.9,386.5 250.9,391.2 253.9,394.8 256.9,397.5 259.9,399.5" fill="none" stroke="#18abe4" stroke-width="1.8" stroke-linejoin="round"/>
<polyline points="34.0,396.0 37.0,395.2 40.0,394.3 43.0,393.5 46.0,392.7 49.1,391.8 52.1,391.0 55.1,390.2 58.1,389.3 61.1,388.4 64.1,387.3 67.1,385.9 70.1,384.2 73.2,382.2 76.2,379.7 79.2,377.1 82.2,374.3 85.2,371.4 88.2,368.6 91.2,365.6 94.2,362.5 97.3,359.1 100.3,355.5 103.3,351.9 106.3,348.5 109.3,345.1 112.3,341.9 115.3,338.8 118.3,336.0 121.3,333.4 124.4,331.3 127.4,329.7 130.4,328.5 133.4,327.6 136.4,327.0 139.4,326.6 142.4,326.3 145.4,325.8 148.5,324.8 151.5,323.4 154.5,321.6 157.5,319.3 160.5,316.1 163.5,312.3 166.5,308.0 169.5,303.4 172.6,298.5 175.6,293.3 178.6,287.9 181.6,282.2 184.6,276.5 187.6,271.1 190.6,266.2 193.6,261.8 196.6,257.9 199.7,254.6 202.7,252.3 205.7,251.3 208.7,252.2 211.7,255.7 214.7,262.1 217.7,271.3 220.7,282.4 223.8,294.1 226.8,306.1 229.8,318.2 232.8,330.8 235.8,343.3 238.8,354.8 241.8,365.1 244.8,374.1 247.9,381.6 250.9,387.5 253.9,392.0 256.9,395.4 259.9,398.3" fill="none" stroke="#93d5f5" stroke-width="1.45" stroke-linejoin="round"/>
<path d="M34.0,408.7 V227.2 H259.9 V408.7" fill="none" stroke="#707070" stroke-width="1.6" stroke-linejoin="round"/>
<path d="M33.4,408.7 H260.5" stroke="#4a4a4a" stroke-width="1.5"/>
<path d="M34.0,409.3 V226.6" stroke="#5a5a5a" stroke-width="1.5"/>
<line x1="34.00" y1="408.7" x2="34.00" y2="411.90" stroke="#333" stroke-width="1.3"/>
<text x="34.00" y="420.90" class="tk" text-anchor="middle" transform="translate(34.00,0) scale(0.84,1) translate(-34.00,0)">550</text>
<line x1="109.30" y1="408.7" x2="109.30" y2="411.90" stroke="#333" stroke-width="1.3"/>
<text x="109.30" y="420.90" class="tk" text-anchor="middle" transform="translate(109.30,0) scale(0.84,1) translate(-109.30,0)">600</text>
<line x1="184.60" y1="408.7" x2="184.60" y2="411.90" stroke="#333" stroke-width="1.3"/>
<text x="184.60" y="420.90" class="tk" text-anchor="middle" transform="translate(184.60,0) scale(0.84,1) translate(-184.60,0)">650</text>
<line x1="259.90" y1="408.7" x2="259.90" y2="411.90" stroke="#333" stroke-width="1.3"/>
<text x="259.90" y="420.90" class="tk" text-anchor="middle" transform="translate(259.90,0) scale(0.84,1) translate(-259.90,0)">700</text>
<line x1="71.65" y1="408.7" x2="71.65" y2="410.50" stroke="#333" stroke-width="1.2"/>
<line x1="146.95" y1="408.7" x2="146.95" y2="410.50" stroke="#333" stroke-width="1.2"/>
<line x1="222.25" y1="408.7" x2="222.25" y2="410.50" stroke="#333" stroke-width="1.2"/>
<line x1="34.0" y1="408.70" x2="30.20" y2="408.70" stroke="#333" stroke-width="1.3"/>
<text x="28.00" y="411.60" class="tk" text-anchor="end" transform="translate(28.00,0) scale(0.84,1) translate(-28.00,0)">0.0</text>
<line x1="34.0" y1="356.84" x2="30.20" y2="356.84" stroke="#333" stroke-width="1.3"/>
<text x="28.00" y="359.74" class="tk" text-anchor="end" transform="translate(28.00,0) scale(0.84,1) translate(-28.00,0)">0.2</text>
<line x1="34.0" y1="304.99" x2="30.20" y2="304.99" stroke="#333" stroke-width="1.3"/>
<text x="28.00" y="307.89" class="tk" text-anchor="end" transform="translate(28.00,0) scale(0.84,1) translate(-28.00,0)">0.4</text>
<line x1="34.0" y1="253.13" x2="30.20" y2="253.13" stroke="#333" stroke-width="1.3"/>
<text x="28.00" y="256.03" class="tk" text-anchor="end" transform="translate(28.00,0) scale(0.84,1) translate(-28.00,0)">0.6</text>
<line x1="34.0" y1="382.77" x2="32.20" y2="382.77" stroke="#333" stroke-width="1.2"/>
<line x1="34.0" y1="330.91" x2="32.20" y2="330.91" stroke="#333" stroke-width="1.2"/>
<line x1="34.0" y1="279.06" x2="32.20" y2="279.06" stroke="#333" stroke-width="1.2"/>
<text x="147.80" y="431.80" class="ax" text-anchor="middle">Wavelength (nm)</text>
<text transform="translate(10.90,320.10) rotate(-90)" class="ax" text-anchor="middle">Absorbance (a.u.)</text>
<text x="127.90" y="238.00" class="ti">PBT/Au (SL)</text>
<line x1="36.60" y1="234.70" x2="52.50" y2="234.70" stroke="#93d5f5" stroke-width="1.30"/>
<text x="54.20" y="237.20" class="lg" transform="translate(54.20,0) scale(0.94,1) translate(-54.20,0)">Pure MB</text>
<line x1="36.60" y1="243.20" x2="52.50" y2="243.20" stroke="#18abe4" stroke-width="1.62"/>
<text x="54.20" y="245.70" class="lg" transform="translate(54.20,0) scale(0.94,1) translate(-54.20,0)">1min</text>
<line x1="36.60" y1="251.70" x2="52.50" y2="251.70" stroke="#f3a3c4" stroke-width="1.30"/>
<text x="54.20" y="254.20" class="lg" transform="translate(54.20,0) scale(0.94,1) translate(-54.20,0)">5min</text>
<line x1="36.60" y1="260.20" x2="52.50" y2="260.20" stroke="#e2445e" stroke-width="1.62"/>
<text x="54.20" y="262.70" class="lg" transform="translate(54.20,0) scale(0.94,1) translate(-54.20,0)">10min</text>
<line x1="36.60" y1="268.70" x2="52.50" y2="268.70" stroke="#a9d38e" stroke-width="1.30"/>
<text x="54.20" y="271.20" class="lg" transform="translate(54.20,0) scale(0.94,1) translate(-54.20,0)">20min</text>
<line x1="36.60" y1="277.20" x2="52.50" y2="277.20" stroke="#3ab54a" stroke-width="1.62"/>
<text x="54.20" y="279.70" class="lg" transform="translate(54.20,0) scale(0.94,1) translate(-54.20,0)">30min</text>
<line x1="36.60" y1="285.70" x2="52.50" y2="285.70" stroke="#f6bd8e" stroke-width="1.30"/>
<text x="54.20" y="288.20" class="lg" transform="translate(54.20,0) scale(0.94,1) translate(-54.20,0)">40min</text>
<line x1="36.60" y1="294.20" x2="52.50" y2="294.20" stroke="#f7912d" stroke-width="1.62"/>
<text x="54.20" y="296.70" class="lg" transform="translate(54.20,0) scale(0.94,1) translate(-54.20,0)">50min</text>
<line x1="36.60" y1="302.70" x2="52.50" y2="302.70" stroke="#b7b6e6" stroke-width="1.30"/>
<text x="54.20" y="305.20" class="lg" transform="translate(54.20,0) scale(0.94,1) translate(-54.20,0)">60min</text>
<line x1="36.60" y1="311.20" x2="52.50" y2="311.20" stroke="#5a5bbd" stroke-width="1.62"/>
<text x="54.20" y="313.70" class="lg" transform="translate(54.20,0) scale(0.94,1) translate(-54.20,0)">70min</text>
<line x1="36.60" y1="319.70" x2="52.50" y2="319.70" stroke="#fbe8a4" stroke-width="1.30"/>
<text x="54.20" y="322.20" class="lg" transform="translate(54.20,0) scale(0.94,1) translate(-54.20,0)">80min</text>
<line x1="36.60" y1="328.20" x2="52.50" y2="328.20" stroke="#fdd535" stroke-width="1.62"/>
<text x="54.20" y="330.70" class="lg" transform="translate(54.20,0) scale(0.94,1) translate(-54.20,0)">90min</text>
<line x1="148.40" y1="284.40" x2="148.40" y2="313.60" stroke="#444" stroke-width="0.9"/>
<path d="M146.70,312.10 L150.10,312.10 L148.40,317.60 Z" fill="#111"/>
<polyline points="312.8,402.4 315.8,402.4 318.8,402.4 321.8,402.3 324.8,402.3 327.8,402.2 330.8,402.1 333.8,402.0 336.8,401.9 339.8,401.8 342.9,401.6 345.9,401.4 348.9,401.1 351.9,400.9 354.9,400.6 357.9,400.2 360.9,399.9 363.9,399.5 366.9,399.2 369.9,398.8 372.9,398.4 375.9,398.1 378.9,397.7 381.9,397.4 384.9,397.1 387.9,396.8 390.9,396.6 393.9,396.4 396.9,396.3 400.0,396.1 403.0,396.0 406.0,395.9 409.0,395.8 412.0,395.8 415.0,395.7 418.0,395.6 421.0,395.5 424.0,395.4 427.0,395.2 430.0,395.1 433.0,394.9 436.0,394.7 439.0,394.5 442.0,394.4 445.0,394.2 448.0,394.1 451.0,394.1 454.1,394.1 457.1,394.1 460.1,394.1 463.1,394.3 466.1,394.4 469.1,394.6 472.1,394.8 475.1,395.1 478.1,395.4 481.1,395.8 484.1,396.1 487.1,396.6 490.1,397.1 493.1,397.6 496.1,398.1 499.1,398.7 502.1,399.3 505.1,399.8 508.1,400.4 511.2,400.9 514.2,401.5 517.2,402.0 520.2,402.6 523.2,403.1 526.2,403.7 529.2,404.3 532.2,404.9 535.2,405.6 538.2,406.2" fill="none" stroke="#fdd535" stroke-width="1.8" stroke-linejoin="round"/>
<polyline points="312.8,401.4 315.8,401.4 318.8,401.4 321.8,401.4 324.8,401.3 327.8,401.3 330.8,401.2 333.8,401.1 336.8,401.0 339.8,400.8 342.9,400.6 345.9,400.4 348.9,400.1 351.9,399.7 354.9,399.3 357.9,398.9 360.9,398.4 363.9,397.9 366.9,397.4 369.9,396.9 372.9,396.4 375.9,395.9 378.9,395.4 381.9,394.9 384.9,394.5 387.9,394.1 390.9,393.7 393.9,393.5 396.9,393.2 400.0,393.0 403.0,392.8 406.0,392.7 409.0,392.6 412.0,392.5 415.0,392.4 418.0,392.2 421.0,392.1 424.0,391.8 427.0,391.6 430.0,391.3 433.0,391.1 436.0,390.8 439.0,390.6 442.0,390.3 445.0,390.0 448.0,389.8 451.0,389.6 454.1,389.4 457.1,389.2 460.1,389.1 463.1,388.9 466.1,388.9 469.1,388.8 472.1,388.8 475.1,388.9 478.1,389.0 481.1,389.2 484.1,389.5 487.1,389.8 490.1,390.4 493.1,391.0 496.1,391.8 499.1,392.7 502.1,393.7 505.1,394.6 508.1,395.6 511.2,396.6 514.2,397.6 517.2,398.5 520.2,399.4 523.2,400.2 526.2,401.0 529.2,401.8 532.2,402.4 535.2,403.1 538.2,403.7" fill="none" stroke="#fbe8a4" stroke-width="1.45" stroke-linejoin="round"/>
<polyline points="312.8,400.1 315.8,400.0 318.8,399.9 321.8,399.8 324.8,399.8 327.8,399.6 330.8,399.5 333.8,399.4 336.8,399.2 339.8,399.0 342.9,398.7 345.9,398.4 348.9,398.1 351.9,397.7 354.9,397.2 357.9,396.7 360.9,396.2 363.9,395.7 366.9,395.1 369.9,394.6 372.9,394.0 375.9,393.4 378.9,392.9 381.9,392.3 384.9,391.9 387.9,391.4 390.9,391.0 393.9,390.7 396.9,390.4 400.0,390.2 403.0,390.0 406.0,389.8 409.0,389.7 412.0,389.6 415.0,389.5 418.0,389.4 421.0,389.3 424.0,389.0 427.0,388.8 430.0,388.5 433.0,388.1 436.0,387.8 439.0,387.4 442.0,387.0 445.0,386.5 448.0,386.1 451.0,385.7 454.1,385.3 457.1,384.9 460.1,384.5 463.1,384.2 466.1,383.9 469.1,383.7 472.1,383.5 475.1,383.4 478.1,383.5 481.1,383.6 484.1,384.0 487.1,384.6 490.1,385.5 493.1,386.6 496.1,387.9 499.1,389.3 502.1,390.6 505.1,391.9 508.1,393.2 511.2,394.6 514.2,395.8 517.2,396.9 520.2,397.9 523.2,398.9 526.2,399.7 529.2,400.4 532.2,401.0 535.2,401.7 538.2,402.1" fill="none" stroke="#5a5bbd" stroke-width="1.8" stroke-linejoin="round"/>
<polyline points="312.8,399.8 315.8,399.8 318.8,399.7 321.8,399.6 324.8,399.5 327.8,399.3 330.8,399.1 333.8,398.9 336.8,398.7 339.8,398.4 342.9,398.0 345.9,397.6 348.9,397.1 351.9,396.6 354.9,396.0 357.9,395.4 360.9,394.7 363.9,394.0 366.9,393.3 369.9,392.6 372.9,391.9 375.9,391.2 378.9,390.6 381.9,389.9 384.9,389.3 387.9,388.8 390.9,388.3 393.9,387.8 396.9,387.4 400.0,387.1 403.0,386.8 406.0,386.6 409.0,386.3 412.0,386.1 415.0,385.9 418.0,385.6 421.0,385.4 424.0,385.0 427.0,384.6 430.0,384.1 433.0,383.6 436.0,383.0 439.0,382.3 442.0,381.6 445.0,380.8 448.0,380.0 451.0,379.2 454.1,378.5 457.1,377.7 460.1,377.0 463.1,376.4 466.1,376.0 469.1,375.6 472.1,375.5 475.1,375.5 478.1,375.7 481.1,376.1 484.1,376.8 487.1,377.8 490.1,379.0 493.1,380.5 496.1,382.1 499.1,383.9 502.1,385.6 505.1,387.3 508.1,389.0 511.2,390.7 514.2,392.2 517.2,393.7 520.2,395.1 523.2,396.4 526.2,397.6 529.2,398.7 532.2,399.7 535.2,400.7 538.2,401.5" fill="none" stroke="#b7b6e6" stroke-width="1.45" stroke-linejoin="round"/>
<polyline points="312.8,399.5 315.8,399.4 318.8,399.3 321.8,399.2 324.8,399.0 327.8,398.8 330.8,398.6 333.8,398.3 336.8,398.0 339.8,397.6 342.9,397.2 345.9,396.7 348.9,396.1 351.9,395.5 354.9,394.9 357.9,394.2 360.9,393.4 363.9,392.7 366.9,391.9 369.9,391.1 372.9,390.2 375.9,389.4 378.9,388.6 381.9,387.8 384.9,387.1 387.9,386.4 390.9,385.7 393.9,385.1 396.9,384.6 400.0,384.1 403.0,383.7 406.0,383.3 409.0,383.0 412.0,382.6 415.0,382.3 418.0,382.0 421.0,381.6 424.0,381.2 427.0,380.7 430.0,380.1 433.0,379.4 436.0,378.5 439.0,377.6 442.0,376.6 445.0,375.5 448.0,374.4 451.0,373.3 454.1,372.1 457.1,371.0 460.1,370.0 463.1,369.1 466.1,368.3 469.1,367.8 472.1,367.4 475.1,367.4 478.1,367.6 481.1,368.1 484.1,369.0 487.1,370.3 490.1,371.9 493.1,373.7 496.1,375.8 499.1,377.9 502.1,380.1 505.1,382.2 508.1,384.3 511.2,386.3 514.2,388.3 517.2,390.1 520.2,391.9 523.2,393.5 526.2,395.1 529.2,396.6 532.2,398.1 535.2,399.6 538.2,400.9" fill="none" stroke="#f7912d" stroke-width="1.8" stroke-linejoin="round"/>
<polyline points="312.8,399.0 315.8,398.9 318.8,398.8 321.8,398.6 324.8,398.4 327.8,398.2 330.8,398.0 333.8,397.7 336.8,397.4 339.8,397.1 342.9,396.6 345.9,396.1 348.9,395.4 351.9,394.7 354.9,393.9 357.9,393.0 360.9,392.1 363.9,391.2 366.9,390.2 369.9,389.2 372.9,388.2 375.9,387.1 378.9,386.0 381.9,385.0 384.9,384.0 387.9,383.0 390.9,382.1 393.9,381.3 396.9,380.5 400.0,379.8 403.0,379.2 406.0,378.8 409.0,378.3 412.0,377.9 415.0,377.6 418.0,377.2 421.0,376.8 424.0,376.3 427.0,375.7 430.0,375.0 433.0,374.2 436.0,373.2 439.0,372.0 442.0,370.8 445.0,369.5 448.0,368.1 451.0,366.6 454.1,365.1 457.1,363.7 460.1,362.2 463.1,360.9 466.1,359.8 469.1,358.8 472.1,358.1 475.1,357.6 478.1,357.4 481.1,357.6 484.1,358.3 487.1,359.6 490.1,361.4 493.1,363.9 496.1,366.7 499.1,369.7 502.1,372.7 505.1,375.7 508.1,378.8 511.2,381.9 514.2,384.8 517.2,387.5 520.2,390.1 523.2,392.3 526.2,394.4 529.2,396.2 532.2,397.9 535.2,399.6 538.2,400.7" fill="none" stroke="#f6bd8e" stroke-width="1.45" stroke-linejoin="round"/>
<polyline points="312.8,399.0 315.8,398.8 318.8,398.7 321.8,398.3 324.8,397.9 327.8,397.5 330.8,397.1 333.8,396.7 336.8,396.2 339.8,395.7 342.9,395.2 345.9,394.6 348.9,394.0 351.9,393.3 354.9,392.6 357.9,391.7 360.9,390.7 363.9,389.7 366.9,388.6 369.9,387.5 372.9,386.3 375.9,385.2 378.9,384.0 381.9,382.8 384.9,381.5 387.9,380.2 390.9,379.0 393.9,377.8 396.9,376.8 400.0,375.8 403.0,374.8 406.0,374.0 409.0,373.4 412.0,372.8 415.0,372.3 418.0,371.9 421.0,371.5 424.0,371.1 427.0,370.7 430.0,370.1 433.0,369.3 436.0,368.3 439.0,367.2 442.0,365.9 445.0,364.3 448.0,362.5 451.0,360.5 454.1,358.4 457.1,356.2 460.1,354.1 463.1,351.9 466.1,349.8 469.1,347.9 472.1,346.3 475.1,345.1 478.1,344.4 481.1,344.2 484.1,344.6 487.1,345.5 490.1,346.9 493.1,348.8 496.1,351.5 499.1,355.0 502.1,359.3 505.1,364.0 508.1,368.7 511.2,373.3 514.2,377.7 517.2,382.0 520.2,386.1 523.2,389.8 526.2,393.1 529.2,395.6 532.2,397.7 535.2,399.3 538.2,400.6" fill="none" stroke="#3ab54a" stroke-width="1.8" stroke-linejoin="round"/>
<polyline points="312.8,398.8 315.8,398.7 318.8,398.6 321.8,398.2 324.8,397.8 327.8,397.4 330.8,397.0 333.8,396.6 336.8,396.1 339.8,395.5 342.9,394.9 345.9,394.2 348.9,393.5 351.9,392.7 354.9,391.7 357.9,390.6 360.9,389.3 363.9,387.9 366.9,386.5 369.9,385.0 372.9,383.6 375.9,382.1 378.9,380.5 381.9,378.9 384.9,377.3 387.9,375.6 390.9,374.1 393.9,372.7 396.9,371.4 400.0,370.2 403.0,369.1 406.0,368.2 409.0,367.3 412.0,366.7 415.0,366.1 418.0,365.5 421.0,365.0 424.0,364.5 427.0,363.8 430.0,362.9 433.0,361.6 436.0,360.2 439.0,358.5 442.0,356.4 445.0,354.1 448.0,351.4 451.0,348.6 454.1,345.9 457.1,343.2 460.1,340.6 463.1,338.1 466.1,335.8 469.1,333.6 472.1,331.8 475.1,330.5 478.1,329.7 481.1,329.4 484.1,329.8 487.1,330.6 490.1,332.1 493.1,334.2 496.1,337.4 499.1,341.6 502.1,346.9 505.1,352.8 508.1,358.7 511.2,364.5 514.2,370.2 517.2,375.8 520.2,381.2 523.2,386.0 526.2,390.2 529.2,393.6 532.2,396.4 535.2,398.6 538.2,400.3" fill="none" stroke="#a9d38e" stroke-width="1.45" stroke-linejoin="round"/>
<polyline points="312.8,398.5 315.8,398.4 318.8,398.2 321.8,397.9 324.8,397.5 327.8,397.2 330.8,396.8 333.8,396.3 336.8,395.8 339.8,395.2 342.9,394.5 345.9,393.7 348.9,392.8 351.9,391.7 354.9,390.5 357.9,389.1 360.9,387.6 363.9,386.1 366.9,384.4 369.9,382.7 372.9,380.9 375.9,379.1 378.9,377.2 381.9,375.4 384.9,373.5 387.9,371.7 390.9,370.0 393.9,368.5 396.9,367.0 400.0,365.7 403.0,364.6 406.0,363.6 409.0,362.7 412.0,362.0 415.0,361.3 418.0,360.6 421.0,359.7 424.0,358.8 427.0,357.6 430.0,356.2 433.0,354.5 436.0,352.5 439.0,350.2 442.0,347.6 445.0,344.8 448.0,341.8 451.0,338.7 454.1,335.6 457.1,332.5 460.1,329.5 463.1,326.7 466.1,324.1 469.1,321.7 472.1,319.7 475.1,318.2 478.1,317.1 481.1,316.7 484.1,317.0 487.1,318.2 490.1,320.3 493.1,323.6 496.1,327.8 499.1,333.0 502.1,339.0 505.1,345.5 508.1,352.3 511.2,359.2 514.2,365.9 517.2,372.4 520.2,378.4 523.2,383.8 526.2,388.5 529.2,392.5 532.2,395.7 535.2,398.2 538.2,400.1" fill="none" stroke="#e2445e" stroke-width="1.8" stroke-linejoin="round"/>
<polyline points="312.8,398.2 315.8,398.0 318.8,397.9 321.8,397.3 324.8,396.8 327.8,396.2 330.8,395.6 333.8,395.1 336.8,394.4 339.8,393.7 342.9,393.0 345.9,392.1 348.9,391.1 351.9,390.0 354.9,388.8 357.9,387.4 360.9,385.8 363.9,384.1 366.9,382.3 369.9,380.5 372.9,378.6 375.9,376.7 378.9,374.8 381.9,372.8 384.9,370.7 387.9,368.6 390.9,366.7 393.9,364.9 396.9,363.3 400.0,361.8 403.0,360.4 406.0,359.2 409.0,358.2 412.0,357.4 415.0,356.6 418.0,355.9 421.0,355.0 424.0,354.1 427.0,353.0 430.0,351.5 433.0,349.6 436.0,347.4 439.0,345.0 442.0,342.3 445.0,339.2 448.0,335.8 451.0,332.3 454.1,328.8 457.1,325.3 460.1,321.9 463.1,318.6 466.1,315.5 469.1,312.6 472.1,310.0 475.1,307.9 478.1,306.4 481.1,305.8 484.1,306.0 487.1,307.1 490.1,309.3 493.1,312.5 496.1,316.9 499.1,322.6 502.1,329.7 505.1,337.6 508.1,345.6 511.2,353.4 514.2,361.0 517.2,368.4 520.2,375.4 523.2,381.6 526.2,387.0 529.2,391.8 532.2,395.1 535.2,397.8 538.2,399.8" fill="none" stroke="#f3a3c4" stroke-width="1.45" stroke-linejoin="round"/>
<polyline points="312.8,398.0 315.8,397.7 318.8,397.3 321.8,396.7 324.8,396.1 327.8,395.5 330.8,394.9 333.8,394.3 336.8,393.6 339.8,392.9 342.9,392.0 345.9,391.0 348.9,389.7 351.9,388.4 354.9,386.8 357.9,385.2 360.9,383.4 363.9,381.5 366.9,379.4 369.9,377.3 372.9,375.0 375.9,372.7 378.9,370.3 381.9,367.9 384.9,365.4 387.9,362.8 390.9,360.4 393.9,358.1 396.9,356.0 400.0,354.2 403.0,352.6 406.0,351.3 409.0,350.3 412.0,349.6 415.0,349.0 418.0,348.4 421.0,347.7 424.0,346.9 427.0,345.9 430.0,344.6 433.0,342.7 436.0,340.4 439.0,337.7 442.0,334.7 445.0,331.3 448.0,327.6 451.0,323.6 454.1,319.6 457.1,315.5 460.1,311.6 463.1,307.8 466.1,304.2 469.1,300.9 472.1,298.0 475.1,295.6 478.1,293.9 481.1,293.0 484.1,293.4 487.1,295.1 490.1,298.3 493.1,303.0 496.1,308.9 499.1,315.9 502.1,324.1 505.1,333.2 508.1,342.5 511.2,351.4 514.2,359.9 517.2,368.1 520.2,375.6 523.2,382.1 526.2,387.6 529.2,392.1 532.2,395.9 535.2,397.9 538.2,399.5" fill="none" stroke="#18abe4" stroke-width="1.8" stroke-linejoin="round"/>
<polyline points="312.8,395.9 315.8,395.2 318.8,394.5 321.8,393.8 324.8,393.0 327.8,392.3 330.8,391.6 333.8,390.8 336.8,390.0 339.8,389.1 342.9,388.0 345.9,386.6 348.9,384.9 351.9,382.9 354.9,380.4 357.9,377.8 360.9,374.9 363.9,372.1 366.9,369.3 369.9,366.3 372.9,363.1 375.9,359.7 378.9,356.1 381.9,352.6 384.9,349.1 387.9,345.8 390.9,342.6 393.9,339.5 396.9,336.6 400.0,334.0 403.0,331.9 406.0,330.3 409.0,329.1 412.0,328.2 415.0,327.6 418.0,327.2 421.0,326.9 424.0,326.4 427.0,325.4 430.0,324.0 433.0,322.2 436.0,319.9 439.0,316.7 442.0,312.9 445.0,308.6 448.0,304.0 451.0,299.1 454.1,293.9 457.1,288.4 460.1,282.8 463.1,277.1 466.1,271.7 469.1,266.8 472.1,262.3 475.1,258.4 478.1,255.2 481.1,252.8 484.1,251.8 487.1,252.8 490.1,256.3 493.1,262.6 496.1,271.8 499.1,282.9 502.1,294.6 505.1,306.6 508.1,318.8 511.2,331.3 514.2,343.8 517.2,355.4 520.2,365.6 523.2,374.7 526.2,382.2 529.2,388.1 532.2,392.7 535.2,396.1 538.2,399.0" fill="none" stroke="#93d5f5" stroke-width="1.45" stroke-linejoin="round"/>
<path d="M312.8,409.4 V227.7 H538.2 V409.4" fill="none" stroke="#707070" stroke-width="1.6" stroke-linejoin="round"/>
<path d="M312.2,409.4 H538.8000000000001" stroke="#4a4a4a" stroke-width="1.5"/>
<path d="M312.8,410.0 V227.1" stroke="#5a5a5a" stroke-width="1.5"/>
<line x1="312.80" y1="409.4" x2="312.80" y2="412.60" stroke="#333" stroke-width="1.3"/>
<text x="312.80" y="421.20" class="tk" text-anchor="middle" transform="translate(312.80,0) scale(0.84,1) translate(-312.80,0)">550</text>
<line x1="387.93" y1="409.4" x2="387.93" y2="412.60" stroke="#333" stroke-width="1.3"/>
<text x="387.93" y="421.20" class="tk" text-anchor="middle" transform="translate(387.93,0) scale(0.84,1) translate(-387.93,0)">600</text>
<line x1="463.07" y1="409.4" x2="463.07" y2="412.60" stroke="#333" stroke-width="1.3"/>
<text x="463.07" y="421.20" class="tk" text-anchor="middle" transform="translate(463.07,0) scale(0.84,1) translate(-463.07,0)">650</text>
<line x1="538.20" y1="409.4" x2="538.20" y2="412.60" stroke="#333" stroke-width="1.3"/>
<text x="538.20" y="421.20" class="tk" text-anchor="middle" transform="translate(538.20,0) scale(0.84,1) translate(-538.20,0)">700</text>
<line x1="350.37" y1="409.4" x2="350.37" y2="411.20" stroke="#333" stroke-width="1.2"/>
<line x1="425.50" y1="409.4" x2="425.50" y2="411.20" stroke="#333" stroke-width="1.2"/>
<line x1="500.63" y1="409.4" x2="500.63" y2="411.20" stroke="#333" stroke-width="1.2"/>
<line x1="312.8" y1="409.40" x2="309.00" y2="409.40" stroke="#333" stroke-width="1.3"/>
<text x="306.80" y="412.30" class="tk" text-anchor="end" transform="translate(306.80,0) scale(0.84,1) translate(-306.80,0)">0.0</text>
<line x1="312.8" y1="357.49" x2="309.00" y2="357.49" stroke="#333" stroke-width="1.3"/>
<text x="306.80" y="360.39" class="tk" text-anchor="end" transform="translate(306.80,0) scale(0.84,1) translate(-306.80,0)">0.2</text>
<line x1="312.8" y1="305.57" x2="309.00" y2="305.57" stroke="#333" stroke-width="1.3"/>
<text x="306.80" y="308.47" class="tk" text-anchor="end" transform="translate(306.80,0) scale(0.84,1) translate(-306.80,0)">0.4</text>
<line x1="312.8" y1="253.66" x2="309.00" y2="253.66" stroke="#333" stroke-width="1.3"/>
<text x="306.80" y="256.56" class="tk" text-anchor="end" transform="translate(306.80,0) scale(0.84,1) translate(-306.80,0)">0.6</text>
<line x1="312.8" y1="383.44" x2="311.00" y2="383.44" stroke="#333" stroke-width="1.2"/>
<line x1="312.8" y1="331.53" x2="311.00" y2="331.53" stroke="#333" stroke-width="1.2"/>
<line x1="312.8" y1="279.61" x2="311.00" y2="279.61" stroke="#333" stroke-width="1.2"/>
<text x="426.70" y="432.30" class="ax" text-anchor="middle">Wavelength (nm)</text>
<text transform="translate(291.00,319.60) rotate(-90)" class="ax" text-anchor="middle">Absorbance (a.u.)</text>
<text x="401.10" y="239.20" class="ti">PBT/Ag (SL)</text>
<line x1="315.80" y1="233.30" x2="331.70" y2="233.30" stroke="#93d5f5" stroke-width="1.30"/>
<text x="334.00" y="235.80" class="lg" transform="translate(334.00,0) scale(0.94,1) translate(-334.00,0)">Pure MB</text>
<line x1="315.80" y1="241.89" x2="331.70" y2="241.89" stroke="#18abe4" stroke-width="1.62"/>
<text x="334.00" y="244.39" class="lg" transform="translate(334.00,0) scale(0.94,1) translate(-334.00,0)">1min</text>
<line x1="315.80" y1="250.48" x2="331.70" y2="250.48" stroke="#f3a3c4" stroke-width="1.30"/>
<text x="334.00" y="252.98" class="lg" transform="translate(334.00,0) scale(0.94,1) translate(-334.00,0)">5min</text>
<line x1="315.80" y1="259.07" x2="331.70" y2="259.07" stroke="#e2445e" stroke-width="1.62"/>
<text x="334.00" y="261.57" class="lg" transform="translate(334.00,0) scale(0.94,1) translate(-334.00,0)">10min</text>
<line x1="315.80" y1="267.66" x2="331.70" y2="267.66" stroke="#a9d38e" stroke-width="1.30"/>
<text x="334.00" y="270.16" class="lg" transform="translate(334.00,0) scale(0.94,1) translate(-334.00,0)">20min</text>
<line x1="315.80" y1="276.25" x2="331.70" y2="276.25" stroke="#3ab54a" stroke-width="1.62"/>
<text x="334.00" y="278.75" class="lg" transform="translate(334.00,0) scale(0.94,1) translate(-334.00,0)">30min</text>
<line x1="315.80" y1="284.84" x2="331.70" y2="284.84" stroke="#f6bd8e" stroke-width="1.30"/>
<text x="334.00" y="287.34" class="lg" transform="translate(334.00,0) scale(0.94,1) translate(-334.00,0)">40min</text>
<line x1="315.80" y1="293.43" x2="331.70" y2="293.43" stroke="#f7912d" stroke-width="1.62"/>
<text x="334.00" y="295.93" class="lg" transform="translate(334.00,0) scale(0.94,1) translate(-334.00,0)">50min</text>
<line x1="315.80" y1="302.02" x2="331.70" y2="302.02" stroke="#b7b6e6" stroke-width="1.30"/>
<text x="334.00" y="304.52" class="lg" transform="translate(334.00,0) scale(0.94,1) translate(-334.00,0)">60min</text>
<line x1="315.80" y1="310.61" x2="331.70" y2="310.61" stroke="#5a5bbd" stroke-width="1.62"/>
<text x="334.00" y="313.11" class="lg" transform="translate(334.00,0) scale(0.94,1) translate(-334.00,0)">70min</text>
<line x1="315.80" y1="319.20" x2="331.70" y2="319.20" stroke="#fbe8a4" stroke-width="1.30"/>
<text x="334.00" y="321.70" class="lg" transform="translate(334.00,0) scale(0.94,1) translate(-334.00,0)">80min</text>
<line x1="315.80" y1="327.79" x2="331.70" y2="327.79" stroke="#fdd535" stroke-width="1.62"/>
<text x="334.00" y="330.29" class="lg" transform="translate(334.00,0) scale(0.94,1) translate(-334.00,0)">90min</text>
<line x1="427.10" y1="286.60" x2="427.10" y2="315.50" stroke="#444" stroke-width="0.9"/>
<path d="M425.40,314.00 L428.80,314.00 L427.10,319.50 Z" fill="#111"/>
</svg></body></html>
